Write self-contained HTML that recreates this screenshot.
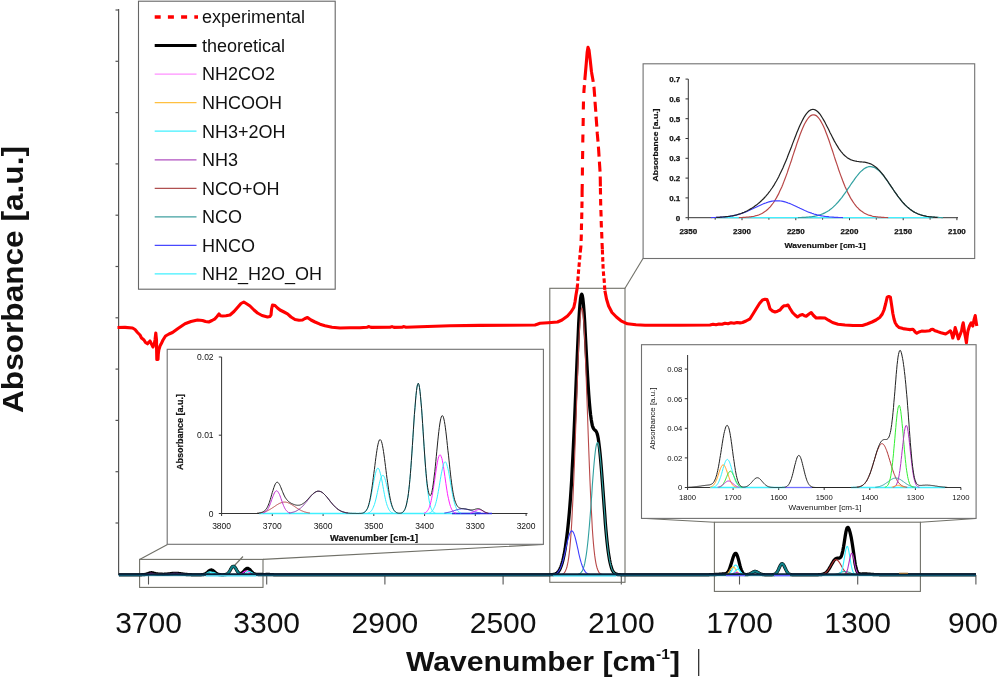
<!DOCTYPE html>
<html><head><meta charset="utf-8"><title>IR spectra</title>
<style>html,body{margin:0;padding:0;background:#fff;overflow:hidden}svg{display:block}</style></head>
<body>
<svg width="1000" height="678" viewBox="0 0 1000 678" font-family="Liberation Sans, Arial, sans-serif">
<rect width="1000" height="678" fill="#fff"/>
<g stroke="#555" stroke-width="1.2" fill="none">
<path d="M118.6,9 V575"/>
<path d="M115.5,10.0 H118.6"/>
<path d="M115.5,61.3 H118.6"/>
<path d="M115.5,112.6 H118.6"/>
<path d="M115.5,163.9 H118.6"/>
<path d="M115.5,215.2 H118.6"/>
<path d="M115.5,266.5 H118.6"/>
<path d="M115.5,317.8 H118.6"/>
<path d="M115.5,369.1 H118.6"/>
<path d="M115.5,420.4 H118.6"/>
<path d="M115.5,471.7 H118.6"/>
<path d="M115.5,523.0 H118.6"/>
</g>
<g stroke="#555" stroke-width="1.1" fill="none">
<path d="M148.5,575 V584.5"/>
<path d="M266.7,575 V584.5"/>
<path d="M384.9,575 V584.5"/>
<path d="M503.1,575 V584.5"/>
<path d="M621.3,575 V584.5"/>
<path d="M739.5,575 V584.5"/>
<path d="M857.7,575 V584.5"/>
<path d="M975.9,575 V584.5"/>
</g>
<g stroke="#707068" stroke-width="1.1" fill="none">
<rect x="139.6" y="559.4" width="123.4" height="28"/>
<path d="M139.6,559.4 L167.5,544.5 M263,559.4 L543.4,544.5"/>
<rect x="549.8" y="288.3" width="75.2" height="294"/>
<path d="M625,288.3 L643,258.5"/>
<rect x="714.4" y="522.2" width="206" height="69.2"/>
<path d="M641.5,518.3 L714.4,522.2 M976,518.5 L920.4,522.2"/>
<path d="M234,566 L243,556.5"/>
</g>
<path d="M119.0,574.8 L119.5,574.8 L120.1,574.8 L120.7,574.8 L121.3,574.8 L121.9,574.8 L122.5,574.8 L123.1,574.8 L123.7,574.8 L124.3,574.8 L124.9,574.8 L125.5,574.8 L126.0,574.8 L126.6,574.8 L127.2,574.8 L127.8,574.8 L128.4,574.8 L129.0,574.8 L129.6,574.8 L130.2,574.8 L130.8,574.8 L131.4,574.8 L132.0,574.8 L132.5,574.8 L133.1,574.8 L133.7,574.8 L134.3,574.8 L134.9,574.8 L135.5,574.8 L136.1,574.8 L136.7,574.8 L137.3,574.8 L137.9,574.8 L138.5,574.8 L139.0,574.8 L139.6,574.8 L140.2,574.8 L140.8,574.8 L141.4,574.8 L142.0,574.7 L142.6,574.7 L143.2,574.7 L143.8,574.6 L144.4,574.6 L145.0,574.5 L145.5,574.4 L146.1,574.3 L146.7,574.1 L147.3,573.9 L147.9,573.7 L148.5,573.4 L149.1,573.2 L149.7,573.0 L150.3,572.9 L150.9,572.8 L151.5,572.7 L152.0,572.8 L152.6,572.9 L153.2,573.0 L153.8,573.2 L154.4,573.4 L155.0,573.5 L155.6,573.7 L156.2,573.8 L156.8,573.9 L157.4,574.0 L158.0,574.0 L158.5,574.1 L159.1,574.1 L159.7,574.1 L160.3,574.2 L160.9,574.2 L161.5,574.2 L162.1,574.2 L162.7,574.3 L163.3,574.3 L163.9,574.3 L164.5,574.2 L165.0,574.2 L165.6,574.2 L166.2,574.2 L166.8,574.1 L167.4,574.1 L168.0,574.0 L168.6,573.9 L169.2,573.9 L169.8,573.8 L170.4,573.7 L171.0,573.6 L171.5,573.6 L172.1,573.5 L172.7,573.5 L173.3,573.4 L173.9,573.4 L174.5,573.3 L175.1,573.3 L175.7,573.3 L176.3,573.4 L176.9,573.4 L177.5,573.4 L178.1,573.5 L178.6,573.5 L179.2,573.6 L179.8,573.7 L180.4,573.7 L181.0,573.8 L181.6,573.9 L182.2,574.0 L182.8,574.1 L183.4,574.2 L184.0,574.2 L184.6,574.3 L185.1,574.4 L185.7,574.4 L186.3,574.5 L186.9,574.5 L187.5,574.6 L188.1,574.6 L188.7,574.7 L189.3,574.7 L189.9,574.7 L190.5,574.7 L191.1,574.7 L191.6,574.8 L192.2,574.8 L192.8,574.8 L193.4,574.8 L194.0,574.8 L194.6,574.8 L195.2,574.8 L195.8,574.8 L196.4,574.8 L197.0,574.8 L197.6,574.8 L198.1,574.8 L198.7,574.8 L199.3,574.8 L199.9,574.8 L200.5,574.8 L201.1,574.8 L201.7,574.7 L202.3,574.7 L202.9,574.6 L203.5,574.5 L204.1,574.4 L204.6,574.2 L205.2,573.9 L205.8,573.6 L206.4,573.2 L207.0,572.7 L207.6,572.2 L208.2,571.6 L208.8,571.1 L209.4,570.7 L210.0,570.3 L210.6,570.1 L211.1,570.0 L211.7,570.0 L212.3,570.2 L212.9,570.5 L213.5,571.0 L214.1,571.5 L214.7,572.0 L215.3,572.5 L215.9,573.0 L216.5,573.4 L217.1,573.8 L217.6,574.1 L218.2,574.3 L218.8,574.5 L219.4,574.6 L220.0,574.7 L220.6,574.7 L221.2,574.8 L221.8,574.8 L222.4,574.8 L223.0,574.8 L223.6,574.8 L224.1,574.7 L224.7,574.7 L225.3,574.6 L225.9,574.5 L226.5,574.2 L227.1,573.9 L227.7,573.5 L228.3,572.9 L228.9,572.2 L229.5,571.3 L230.1,570.3 L230.6,569.3 L231.2,568.3 L231.8,567.4 L232.4,566.7 L233.0,566.3 L233.6,566.3 L234.2,566.5 L234.8,567.1 L235.4,567.9 L236.0,568.9 L236.6,569.9 L237.1,570.9 L237.7,571.8 L238.3,572.5 L238.9,573.1 L239.5,573.4 L240.1,573.6 L240.7,573.6 L241.3,573.4 L241.9,573.1 L242.5,572.6 L243.1,572.0 L243.7,571.4 L244.2,570.7 L244.8,570.0 L245.4,569.4 L246.0,568.9 L246.6,568.6 L247.2,568.4 L247.8,568.4 L248.4,568.6 L249.0,569.0 L249.6,569.4 L250.2,570.0 L250.7,570.7 L251.3,571.3 L251.9,571.9 L252.5,572.5 L253.1,573.0 L253.7,573.4 L254.3,573.7 L254.9,574.0 L255.5,574.2 L256.1,574.3 L256.7,574.4 L257.2,574.4 L257.8,574.4 L258.4,574.5 L259.0,574.5 L259.6,574.5 L260.2,574.5 L260.8,574.5 L261.4,574.5 L262.0,574.5 L262.6,574.5 L263.2,574.6 L263.7,574.6 L264.3,574.6 L264.9,574.6 L265.5,574.6 L266.1,574.5 L266.7,574.5 L267.3,574.5 L267.9,574.5 L268.5,574.5 L269.1,574.5 L269.7,574.5 L270.2,574.6 L270.8,574.6 L271.4,574.6 L272.0,574.7 L272.6,574.7 L273.2,574.7 L273.8,574.8 L274.4,574.8 L275.0,574.8 L275.6,574.8 L276.2,574.8 L276.7,574.8 L277.3,574.8 L277.9,574.8 L278.5,574.8 L279.1,574.8 L279.7,574.8 L280.3,574.8 L280.9,574.8 L281.5,574.8 L282.1,574.8 L282.7,574.8 L283.2,574.8 L283.8,574.8 L284.4,574.8 L285.0,574.8 L285.6,574.8 L286.2,574.8 L286.8,574.8 L287.4,574.8 L288.0,574.8 L288.6,574.8 L289.2,574.8 L289.7,574.8 L290.3,574.8 L290.9,574.8 L291.5,574.8 L292.1,574.8 L292.7,574.8 L293.3,574.8 L293.9,574.8 L294.5,574.8 L295.1,574.8 L295.7,574.8 L296.2,574.8 L296.8,574.8 L297.4,574.8 L298.0,574.8 L298.6,574.8 L299.2,574.8 L299.8,574.8 L300.4,574.8 L301.0,574.8 L301.6,574.8 L302.2,574.8 L302.8,574.8 L303.3,574.8 L303.9,574.8 L304.5,574.8 L305.1,574.8 L305.7,574.8 L306.3,574.8 L306.9,574.8 L307.5,574.8 L308.1,574.8 L308.7,574.8 L309.3,574.8 L309.8,574.8 L310.4,574.8 L311.0,574.8 L311.6,574.8 L312.2,574.8 L312.8,574.8 L313.4,574.8 L314.0,574.8 L314.6,574.8 L315.2,574.8 L315.8,574.8 L316.3,574.8 L316.9,574.8 L317.5,574.8 L318.1,574.8 L318.7,574.8 L319.3,574.8 L319.9,574.8 L320.5,574.8 L321.1,574.8 L321.7,574.8 L322.3,574.8 L322.8,574.8 L323.4,574.8 L324.0,574.8 L324.6,574.8 L325.2,574.8 L325.8,574.8 L326.4,574.8 L327.0,574.8 L327.6,574.8 L328.2,574.8 L328.8,574.8 L329.3,574.8 L329.9,574.8 L330.5,574.8 L331.1,574.8 L331.7,574.8 L332.3,574.8 L332.9,574.8 L333.5,574.8 L334.1,574.8 L334.7,574.8 L335.3,574.8 L335.8,574.8 L336.4,574.8 L337.0,574.8 L337.6,574.8 L338.2,574.8 L338.8,574.8 L339.4,574.8 L340.0,574.8 L340.6,574.8 L341.2,574.8 L341.8,574.8 L342.3,574.8 L342.9,574.8 L343.5,574.8 L344.1,574.8 L344.7,574.8 L345.3,574.8 L345.9,574.8 L346.5,574.8 L347.1,574.8 L347.7,574.8 L348.3,574.8 L348.8,574.8 L349.4,574.8 L350.0,574.8 L350.6,574.8 L351.2,574.8 L351.8,574.8 L352.4,574.8 L353.0,574.8 L353.6,574.8 L354.2,574.8 L354.8,574.8 L355.4,574.8 L355.9,574.8 L356.5,574.8 L357.1,574.8 L357.7,574.8 L358.3,574.8 L358.9,574.8 L359.5,574.8 L360.1,574.8 L360.7,574.8 L361.3,574.8 L361.9,574.8 L362.4,574.8 L363.0,574.8 L363.6,574.8 L364.2,574.8 L364.8,574.8 L365.4,574.8 L366.0,574.8 L366.6,574.8 L367.2,574.8 L367.8,574.8 L368.4,574.8 L368.9,574.8 L369.5,574.8 L370.1,574.8 L370.7,574.8 L371.3,574.8 L371.9,574.8 L372.5,574.8 L373.1,574.8 L373.7,574.8 L374.3,574.8 L374.9,574.8 L375.4,574.8 L376.0,574.8 L376.6,574.8 L377.2,574.8 L377.8,574.8 L378.4,574.8 L379.0,574.8 L379.6,574.8 L380.2,574.8 L380.8,574.8 L381.4,574.8 L381.9,574.8 L382.5,574.8 L383.1,574.8 L383.7,574.8 L384.3,574.8 L384.9,574.8 L385.5,574.8 L386.1,574.8 L386.7,574.8 L387.3,574.8 L387.9,574.8 L388.4,574.8 L389.0,574.8 L389.6,574.8 L390.2,574.8 L390.8,574.8 L391.4,574.8 L392.0,574.8 L392.6,574.8 L393.2,574.8 L393.8,574.8 L394.4,574.8 L394.9,574.8 L395.5,574.8 L396.1,574.8 L396.7,574.8 L397.3,574.8 L397.9,574.8 L398.5,574.8 L399.1,574.8 L399.7,574.8 L400.3,574.8 L400.9,574.8 L401.4,574.8 L402.0,574.8 L402.6,574.8 L403.2,574.8 L403.8,574.8 L404.4,574.8 L405.0,574.8 L405.6,574.8 L406.2,574.8 L406.8,574.8 L407.4,574.8 L407.9,574.8 L408.5,574.8 L409.1,574.8 L409.7,574.8 L410.3,574.8 L410.9,574.8 L411.5,574.8 L412.1,574.8 L412.7,574.8 L413.3,574.8 L413.9,574.8 L414.4,574.8 L415.0,574.8 L415.6,574.8 L416.2,574.8 L416.8,574.8 L417.4,574.8 L418.0,574.8 L418.6,574.8 L419.2,574.8 L419.8,574.8 L420.4,574.8 L421.0,574.8 L421.5,574.8 L422.1,574.8 L422.7,574.8 L423.3,574.8 L423.9,574.8 L424.5,574.8 L425.1,574.8 L425.7,574.8 L426.3,574.8 L426.9,574.8 L427.5,574.8 L428.0,574.8 L428.6,574.8 L429.2,574.8 L429.8,574.8 L430.4,574.8 L431.0,574.8 L431.6,574.8 L432.2,574.8 L432.8,574.8 L433.4,574.8 L434.0,574.8 L434.5,574.8 L435.1,574.8 L435.7,574.8 L436.3,574.8 L436.9,574.8 L437.5,574.8 L438.1,574.8 L438.7,574.8 L439.3,574.8 L439.9,574.8 L440.5,574.8 L441.0,574.8 L441.6,574.8 L442.2,574.8 L442.8,574.8 L443.4,574.8 L444.0,574.8 L444.6,574.8 L445.2,574.8 L445.8,574.8 L446.4,574.8 L447.0,574.8 L447.5,574.8 L448.1,574.8 L448.7,574.8 L449.3,574.8 L449.9,574.8 L450.5,574.8 L451.1,574.8 L451.7,574.8 L452.3,574.8 L452.9,574.8 L453.5,574.8 L454.0,574.8 L454.6,574.8 L455.2,574.8 L455.8,574.8 L456.4,574.8 L457.0,574.8 L457.6,574.8 L458.2,574.8 L458.8,574.8 L459.4,574.8 L460.0,574.8 L460.5,574.8 L461.1,574.8 L461.7,574.8 L462.3,574.8 L462.9,574.8 L463.5,574.8 L464.1,574.8 L464.7,574.8 L465.3,574.8 L465.9,574.8 L466.5,574.8 L467.0,574.8 L467.6,574.8 L468.2,574.8 L468.8,574.8 L469.4,574.8 L470.0,574.8 L470.6,574.8 L471.2,574.8 L471.8,574.8 L472.4,574.8 L473.0,574.8 L473.6,574.8 L474.1,574.8 L474.7,574.8 L475.3,574.8 L475.9,574.8 L476.5,574.8 L477.1,574.8 L477.7,574.8 L478.3,574.8 L478.9,574.8 L479.5,574.8 L480.1,574.8 L480.6,574.8 L481.2,574.8 L481.8,574.8 L482.4,574.8 L483.0,574.8 L483.6,574.8 L484.2,574.8 L484.8,574.8 L485.4,574.8 L486.0,574.8 L486.6,574.8 L487.1,574.8 L487.7,574.8 L488.3,574.8 L488.9,574.8 L489.5,574.8 L490.1,574.8 L490.7,574.8 L491.3,574.8 L491.9,574.8 L492.5,574.8 L493.1,574.8 L493.6,574.8 L494.2,574.8 L494.8,574.8 L495.4,574.8 L496.0,574.8 L496.6,574.8 L497.2,574.8 L497.8,574.8 L498.4,574.8 L499.0,574.8 L499.6,574.8 L500.1,574.8 L500.7,574.8 L501.3,574.8 L501.9,574.8 L502.5,574.8 L503.1,574.8 L503.7,574.8 L504.3,574.8 L504.9,574.8 L505.5,574.8 L506.1,574.8 L506.6,574.8 L507.2,574.8 L507.8,574.8 L508.4,574.8 L509.0,574.8 L509.6,574.8 L510.2,574.8 L510.8,574.8 L511.4,574.8 L512.0,574.8 L512.6,574.8 L513.1,574.8 L513.7,574.8 L514.3,574.8 L514.9,574.8 L515.5,574.8 L516.1,574.8 L516.7,574.8 L517.3,574.8 L517.9,574.8 L518.5,574.8 L519.1,574.8 L519.6,574.8 L520.2,574.8 L520.8,574.8 L521.4,574.8 L522.0,574.8 L522.6,574.8 L523.2,574.8 L523.8,574.8 L524.4,574.8 L525.0,574.8 L525.6,574.8 L526.1,574.8 L526.7,574.8 L527.3,574.8 L527.9,574.8 L528.5,574.8 L529.1,574.8 L529.7,574.8 L530.3,574.8 L530.9,574.8 L531.5,574.8 L532.1,574.8 L532.6,574.8 L533.2,574.8 L533.8,574.8 L534.4,574.8 L535.0,574.8 L535.6,574.8 L536.2,574.8 L536.8,574.8 L537.4,574.8 L538.0,574.8 L538.6,574.8 L539.2,574.8 L539.7,574.8 L540.3,574.8 L540.9,574.8 L541.5,574.8 L542.1,574.8 L542.7,574.8 L543.3,574.8 L543.9,574.8 L544.5,574.8 L545.1,574.8 L545.7,574.8 L546.2,574.8 L546.8,574.8 L547.4,574.8 L548.0,574.8 L548.6,574.8 L549.2,574.8 L549.8,574.8 L550.4,574.7 L551.0,574.7 L551.6,574.7 L552.2,574.6 L552.7,574.6 L553.3,574.5 L553.9,574.4 L554.5,574.2 L555.1,574.0 L555.7,573.8 L556.3,573.5 L556.9,573.1 L557.5,572.6 L558.1,572.0 L558.7,571.2 L559.2,570.3 L559.8,569.3 L560.4,568.0 L561.0,566.5 L561.6,564.8 L562.2,562.8 L562.8,560.6 L563.4,558.0 L564.0,555.2 L564.6,552.0 L565.2,548.6 L565.7,544.7 L566.3,540.6 L566.9,536.0 L567.5,531.0 L568.1,525.5 L568.7,519.5 L569.3,512.9 L569.9,505.7 L570.5,497.8 L571.1,489.1 L571.7,479.6 L572.2,469.2 L572.8,458.0 L573.4,445.9 L574.0,433.0 L574.6,419.5 L575.2,405.3 L575.8,390.8 L576.4,376.3 L577.0,361.9 L577.6,348.1 L578.2,335.1 L578.7,323.4 L579.3,313.3 L579.9,305.1 L580.5,299.1 L581.1,295.4 L581.7,294.2 L582.3,295.5 L582.9,299.1 L583.5,304.9 L584.1,312.6 L584.7,321.8 L585.2,332.2 L585.8,343.2 L586.4,354.5 L587.0,365.6 L587.6,376.3 L588.2,386.1 L588.8,395.0 L589.4,402.7 L590.0,409.4 L590.6,414.9 L591.2,419.3 L591.8,422.8 L592.3,425.4 L592.9,427.2 L593.5,428.5 L594.1,429.3 L594.7,429.9 L595.3,430.4 L595.9,431.0 L596.5,432.0 L597.1,433.5 L597.7,435.7 L598.3,438.7 L598.8,442.6 L599.4,447.4 L600.0,453.0 L600.6,459.5 L601.2,466.6 L601.8,474.3 L602.4,482.3 L603.0,490.6 L603.6,498.9 L604.2,507.1 L604.8,515.0 L605.3,522.6 L605.9,529.6 L606.5,536.1 L607.1,542.1 L607.7,547.4 L608.3,552.1 L608.9,556.1 L609.5,559.6 L610.1,562.6 L610.7,565.1 L611.3,567.2 L611.8,568.9 L612.4,570.2 L613.0,571.3 L613.6,572.2 L614.2,572.8 L614.8,573.4 L615.4,573.7 L616.0,574.0 L616.6,574.3 L617.2,574.4 L617.8,574.5 L618.3,574.6 L618.9,574.7 L619.5,574.7 L620.1,574.7 L620.7,574.8 L621.3,574.8 L621.9,574.8 L622.5,574.8 L623.1,574.8 L623.7,574.8 L624.3,574.8 L624.8,574.8 L625.4,574.8 L626.0,574.8 L626.6,574.8 L627.2,574.8 L627.8,574.8 L628.4,574.8 L629.0,574.8 L629.6,574.8 L630.2,574.8 L630.8,574.8 L631.3,574.8 L631.9,574.8 L632.5,574.8 L633.1,574.8 L633.7,574.8 L634.3,574.8 L634.9,574.8 L635.5,574.8 L636.1,574.8 L636.7,574.8 L637.3,574.8 L637.8,574.8 L638.4,574.8 L639.0,574.8 L639.6,574.8 L640.2,574.8 L640.8,574.8 L641.4,574.8 L642.0,574.8 L642.6,574.8 L643.2,574.8 L643.8,574.8 L644.3,574.8 L644.9,574.8 L645.5,574.8 L646.1,574.8 L646.7,574.8 L647.3,574.8 L647.9,574.8 L648.5,574.8 L649.1,574.8 L649.7,574.8 L650.3,574.8 L650.8,574.8 L651.4,574.8 L652.0,574.8 L652.6,574.8 L653.2,574.8 L653.8,574.8 L654.4,574.8 L655.0,574.8 L655.6,574.8 L656.2,574.8 L656.8,574.8 L657.4,574.8 L657.9,574.8 L658.5,574.8 L659.1,574.8 L659.7,574.8 L660.3,574.8 L660.9,574.8 L661.5,574.8 L662.1,574.8 L662.7,574.8 L663.3,574.8 L663.9,574.8 L664.4,574.8 L665.0,574.8 L665.6,574.8 L666.2,574.8 L666.8,574.8 L667.4,574.8 L668.0,574.8 L668.6,574.8 L669.2,574.8 L669.8,574.8 L670.4,574.8 L670.9,574.8 L671.5,574.8 L672.1,574.8 L672.7,574.8 L673.3,574.8 L673.9,574.8 L674.5,574.8 L675.1,574.8 L675.7,574.8 L676.3,574.8 L676.9,574.8 L677.4,574.8 L678.0,574.8 L678.6,574.8 L679.2,574.8 L679.8,574.8 L680.4,574.8 L681.0,574.8 L681.6,574.8 L682.2,574.8 L682.8,574.8 L683.4,574.8 L683.9,574.8 L684.5,574.8 L685.1,574.8 L685.7,574.8 L686.3,574.8 L686.9,574.8 L687.5,574.8 L688.1,574.8 L688.7,574.8 L689.3,574.8 L689.9,574.8 L690.4,574.8 L691.0,574.8 L691.6,574.8 L692.2,574.8 L692.8,574.8 L693.4,574.8 L694.0,574.8 L694.6,574.8 L695.2,574.8 L695.8,574.8 L696.4,574.8 L696.9,574.8 L697.5,574.8 L698.1,574.8 L698.7,574.8 L699.3,574.8 L699.9,574.8 L700.5,574.8 L701.1,574.8 L701.7,574.8 L702.3,574.8 L702.9,574.8 L703.4,574.8 L704.0,574.8 L704.6,574.8 L705.2,574.8 L705.8,574.8 L706.4,574.8 L707.0,574.8 L707.6,574.8 L708.2,574.8 L708.8,574.8 L709.4,574.7 L709.9,574.7 L710.5,574.7 L711.1,574.7 L711.7,574.7 L712.3,574.7 L712.9,574.6 L713.5,574.6 L714.1,574.6 L714.7,574.6 L715.3,574.5 L715.9,574.5 L716.5,574.4 L717.0,574.4 L717.6,574.3 L718.2,574.3 L718.8,574.3 L719.4,574.2 L720.0,574.2 L720.6,574.1 L721.2,574.1 L721.8,574.1 L722.4,574.0 L723.0,574.0 L723.5,573.9 L724.1,573.9 L724.7,573.8 L725.3,573.7 L725.9,573.5 L726.5,573.2 L727.1,572.8 L727.7,572.2 L728.3,571.4 L728.9,570.3 L729.5,569.0 L730.0,567.4 L730.6,565.6 L731.2,563.7 L731.8,561.7 L732.4,559.7 L733.0,557.8 L733.6,556.1 L734.2,554.7 L734.8,553.8 L735.4,553.3 L736.0,553.4 L736.5,554.0 L737.1,555.2 L737.7,556.9 L738.3,558.9 L738.9,561.2 L739.5,563.6 L740.1,565.9 L740.7,568.0 L741.3,569.8 L741.9,571.3 L742.5,572.4 L743.0,573.2 L743.6,573.8 L744.2,574.2 L744.8,574.4 L745.4,574.6 L746.0,574.6 L746.6,574.6 L747.2,574.6 L747.8,574.5 L748.4,574.4 L749.0,574.2 L749.5,574.0 L750.1,573.8 L750.7,573.5 L751.3,573.1 L751.9,572.7 L752.5,572.4 L753.1,572.0 L753.7,571.7 L754.3,571.5 L754.9,571.4 L755.5,571.4 L756.0,571.5 L756.6,571.7 L757.2,572.0 L757.8,572.4 L758.4,572.7 L759.0,573.1 L759.6,573.5 L760.2,573.8 L760.8,574.0 L761.4,574.3 L762.0,574.4 L762.5,574.5 L763.1,574.6 L763.7,574.7 L764.3,574.7 L764.9,574.8 L765.5,574.8 L766.1,574.8 L766.7,574.8 L767.3,574.8 L767.9,574.8 L768.5,574.8 L769.0,574.8 L769.6,574.8 L770.2,574.8 L770.8,574.8 L771.4,574.8 L772.0,574.8 L772.6,574.7 L773.2,574.7 L773.8,574.6 L774.4,574.4 L775.0,574.1 L775.6,573.8 L776.1,573.2 L776.7,572.5 L777.3,571.6 L777.9,570.6 L778.5,569.4 L779.1,568.0 L779.7,566.7 L780.3,565.5 L780.9,564.6 L781.5,563.9 L782.1,563.7 L782.6,563.8 L783.2,564.4 L783.8,565.3 L784.4,566.5 L785.0,567.8 L785.6,569.1 L786.2,570.3 L786.8,571.4 L787.4,572.4 L788.0,573.1 L788.6,573.7 L789.1,574.1 L789.7,574.3 L790.3,574.5 L790.9,574.6 L791.5,574.7 L792.1,574.8 L792.7,574.8 L793.3,574.8 L793.9,574.8 L794.5,574.8 L795.1,574.8 L795.6,574.8 L796.2,574.8 L796.8,574.8 L797.4,574.8 L798.0,574.8 L798.6,574.8 L799.2,574.8 L799.8,574.8 L800.4,574.8 L801.0,574.8 L801.6,574.8 L802.1,574.8 L802.7,574.8 L803.3,574.8 L803.9,574.8 L804.5,574.8 L805.1,574.8 L805.7,574.8 L806.3,574.8 L806.9,574.8 L807.5,574.8 L808.1,574.8 L808.6,574.8 L809.2,574.8 L809.8,574.8 L810.4,574.8 L811.0,574.8 L811.6,574.8 L812.2,574.8 L812.8,574.8 L813.4,574.8 L814.0,574.8 L814.6,574.8 L815.1,574.8 L815.7,574.8 L816.3,574.8 L816.9,574.8 L817.5,574.8 L818.1,574.8 L818.7,574.7 L819.3,574.7 L819.9,574.7 L820.5,574.6 L821.1,574.6 L821.6,574.5 L822.2,574.4 L822.8,574.2 L823.4,574.1 L824.0,573.8 L824.6,573.5 L825.2,573.2 L825.8,572.7 L826.4,572.2 L827.0,571.6 L827.6,570.9 L828.1,570.2 L828.7,569.3 L829.3,568.3 L829.9,567.3 L830.5,566.3 L831.1,565.2 L831.7,564.1 L832.3,563.1 L832.9,562.1 L833.5,561.1 L834.1,560.3 L834.7,559.6 L835.2,559.1 L835.8,558.7 L836.4,558.4 L837.0,558.2 L837.6,558.2 L838.2,558.2 L838.8,558.1 L839.4,558.1 L840.0,557.8 L840.6,557.3 L841.2,556.4 L841.7,555.0 L842.3,553.0 L842.9,550.3 L843.5,547.1 L844.1,543.4 L844.7,539.4 L845.3,535.6 L845.9,532.2 L846.5,529.6 L847.1,527.9 L847.7,527.3 L848.2,527.5 L848.8,528.5 L849.4,530.1 L850.0,532.1 L850.6,534.6 L851.2,537.4 L851.8,540.7 L852.4,544.4 L853.0,548.5 L853.6,552.8 L854.2,557.1 L854.7,561.1 L855.3,564.6 L855.9,567.5 L856.5,569.7 L857.1,571.4 L857.7,572.5 L858.3,573.2 L858.9,573.7 L859.5,573.9 L860.1,574.0 L860.7,574.1 L861.2,574.1 L861.8,574.1 L862.4,574.0 L863.0,574.0 L863.6,574.0 L864.2,574.0 L864.8,574.0 L865.4,574.0 L866.0,574.0 L866.6,574.0 L867.2,574.0 L867.7,574.1 L868.3,574.1 L868.9,574.1 L869.5,574.2 L870.1,574.2 L870.7,574.3 L871.3,574.3 L871.9,574.4 L872.5,574.4 L873.1,574.5 L873.7,574.5 L874.2,574.6 L874.8,574.6 L875.4,574.6 L876.0,574.7 L876.6,574.7 L877.2,574.7 L877.8,574.7 L878.4,574.7 L879.0,574.7 L879.6,574.8 L880.2,574.8 L880.7,574.8 L881.3,574.8 L881.9,574.8 L882.5,574.8 L883.1,574.8 L883.7,574.8 L884.3,574.8 L884.9,574.8 L885.5,574.8 L886.1,574.8 L886.7,574.8 L887.2,574.8 L887.8,574.8 L888.4,574.8 L889.0,574.8 L889.6,574.8 L890.2,574.8 L890.8,574.8 L891.4,574.8 L892.0,574.8 L892.6,574.8 L893.2,574.8 L893.8,574.8 L894.3,574.8 L894.9,574.8 L895.5,574.8 L896.1,574.8 L896.7,574.8 L897.3,574.8 L897.9,574.8 L898.5,574.8 L899.1,574.8 L899.7,574.8 L900.3,574.8 L900.8,574.8 L901.4,574.8 L902.0,574.8 L902.6,574.8 L903.2,574.8 L903.8,574.8 L904.4,574.8 L905.0,574.8 L905.6,574.8 L906.2,574.8 L906.8,574.8 L907.3,574.8 L907.9,574.8 L908.5,574.8 L909.1,574.8 L909.7,574.8 L910.3,574.8 L910.9,574.8 L911.5,574.8 L912.1,574.8 L912.7,574.8 L913.3,574.8 L913.8,574.8 L914.4,574.8 L915.0,574.8 L915.6,574.8 L916.2,574.8 L916.8,574.8 L917.4,574.8 L918.0,574.8 L918.6,574.8 L919.2,574.8 L919.8,574.8 L920.3,574.8 L920.9,574.8 L921.5,574.8 L922.1,574.8 L922.7,574.8 L923.3,574.8 L923.9,574.8 L924.5,574.8 L925.1,574.8 L925.7,574.8 L926.3,574.8 L926.8,574.8 L927.4,574.8 L928.0,574.8 L928.6,574.8 L929.2,574.8 L929.8,574.8 L930.4,574.8 L931.0,574.8 L931.6,574.8 L932.2,574.8 L932.8,574.8 L933.3,574.8 L933.9,574.8 L934.5,574.8 L935.1,574.8 L935.7,574.8 L936.3,574.8 L936.9,574.8 L937.5,574.8 L938.1,574.8 L938.7,574.8 L939.3,574.8 L939.8,574.8 L940.4,574.8 L941.0,574.8 L941.6,574.8 L942.2,574.8 L942.8,574.8 L943.4,574.8 L944.0,574.8 L944.6,574.8 L945.2,574.8 L945.8,574.8 L946.3,574.8 L946.9,574.8 L947.5,574.8 L948.1,574.8 L948.7,574.8 L949.3,574.8 L949.9,574.8 L950.5,574.8 L951.1,574.8 L951.7,574.8 L952.3,574.8 L952.9,574.8 L953.4,574.8 L954.0,574.8 L954.6,574.8 L955.2,574.8 L955.8,574.8 L956.4,574.8 L957.0,574.8 L957.6,574.8 L958.2,574.8 L958.8,574.8 L959.4,574.8 L959.9,574.8 L960.5,574.8 L961.1,574.8 L961.7,574.8 L962.3,574.8 L962.9,574.8 L963.5,574.8 L964.1,574.8 L964.7,574.8 L965.3,574.8 L965.9,574.8 L966.4,574.8 L967.0,574.8 L967.6,574.8 L968.2,574.8 L968.8,574.8 L969.4,574.8 L970.0,574.8 L970.6,574.8 L971.2,574.8 L971.8,574.8 L972.4,574.8 L972.9,574.8 L973.5,574.8 L974.1,574.8 L974.7,574.8 L975.3,574.8 L975.9,574.8" stroke="#000" stroke-width="3.3" fill="none" stroke-linejoin="round"/>
<path d="M561.6,574.4 L562.2,574.2 L562.8,574.0 L563.4,573.6 L564.0,573.1 L564.6,572.5 L565.2,571.6 L565.7,570.4 L566.3,568.9 L566.9,567.0 L567.5,564.5 L568.1,561.4 L568.7,557.6 L569.3,552.9 L569.9,547.3 L570.5,540.6 L571.1,532.7 L571.7,523.5 L572.2,513.0 L572.8,501.3 L573.4,488.2 L574.0,473.9 L574.6,458.6 L575.2,442.5 L575.8,425.7 L576.4,408.7 L577.0,391.8 L577.6,375.4 L578.2,360.0 L578.7,345.8 L579.3,333.4 L579.9,323.2 L580.5,315.4 L581.1,310.3 L581.7,308.1 L582.3,308.9 L582.9,312.5 L583.5,319.0 L584.1,328.0 L584.7,339.4 L585.2,352.7 L585.8,367.6 L586.4,383.5 L587.0,400.3 L587.6,417.3 L588.2,434.2 L588.8,450.7 L589.4,466.4 L590.0,481.2 L590.6,494.9 L591.2,507.3 L591.8,518.4 L592.3,528.2 L592.9,536.8 L593.5,544.1 L594.1,550.2 L594.7,555.4 L595.3,559.6 L595.9,563.1 L596.5,565.8 L597.1,568.0 L597.7,569.7 L598.3,571.1 L598.8,572.1 L599.4,572.8 L600.0,573.4 L600.6,573.8 L601.2,574.1 L601.8,574.3 L602.4,574.5" stroke="#b84848" stroke-width="1.1" fill="none"/>
<path d="M577.6,574.5 L578.2,574.3 L578.7,574.1 L579.3,573.9 L579.9,573.5 L580.5,573.1 L581.1,572.5 L581.7,571.7 L582.3,570.7 L582.9,569.5 L583.5,567.9 L584.1,566.0 L584.7,563.7 L585.2,560.9 L585.8,557.6 L586.4,553.8 L587.0,549.3 L587.6,544.3 L588.2,538.6 L588.8,532.3 L589.4,525.5 L590.0,518.1 L590.6,510.4 L591.2,502.3 L591.8,494.1 L592.3,485.9 L592.9,477.9 L593.5,470.3 L594.1,463.2 L594.7,457.0 L595.3,451.6 L595.9,447.4 L596.5,444.4 L597.1,442.8 L597.7,442.5 L598.3,443.6 L598.8,446.1 L599.4,449.8 L600.0,454.7 L600.6,460.6 L601.2,467.4 L601.8,474.8 L602.4,482.7 L603.0,490.8 L603.6,499.0 L604.2,507.2 L604.8,515.1 L605.3,522.6 L605.9,529.7 L606.5,536.2 L607.1,542.1 L607.7,547.4 L608.3,552.1 L608.9,556.1 L609.5,559.6 L610.1,562.6 L610.7,565.1 L611.3,567.2 L611.8,568.9 L612.4,570.2 L613.0,571.3 L613.6,572.2 L614.2,572.8 L614.8,573.4 L615.4,573.7 L616.0,574.0 L616.6,574.3 L617.2,574.4" stroke="#30a0a0" stroke-width="1.1" fill="none"/>
<path d="M553.3,574.5 L553.9,574.4 L554.5,574.2 L555.1,574.1 L555.7,573.8 L556.3,573.5 L556.9,573.1 L557.5,572.6 L558.1,572.0 L558.7,571.3 L559.2,570.4 L559.8,569.4 L560.4,568.2 L561.0,566.8 L561.6,565.2 L562.2,563.4 L562.8,561.4 L563.4,559.2 L564.0,556.9 L564.6,554.4 L565.2,551.8 L565.7,549.1 L566.3,546.4 L566.9,543.8 L567.5,541.2 L568.1,538.8 L568.7,536.6 L569.3,534.8 L569.9,533.2 L570.5,532.0 L571.1,531.2 L571.7,530.9 L572.2,531.0 L572.8,531.6 L573.4,532.5 L574.0,533.9 L574.6,535.7 L575.2,537.7 L575.8,540.0 L576.4,542.5 L577.0,545.1 L577.6,547.8 L578.2,550.4 L578.7,553.1 L579.3,555.6 L579.9,558.1 L580.5,560.3 L581.1,562.4 L581.7,564.3 L582.3,566.0 L582.9,567.5 L583.5,568.8 L584.1,569.9 L584.7,570.9 L585.2,571.7 L585.8,572.3 L586.4,572.9 L587.0,573.3 L587.6,573.7 L588.2,573.9 L588.8,574.2 L589.4,574.3 L590.0,574.4" stroke="#4040ff" stroke-width="1.1" fill="none"/>
<path d="M149.1,574.4 L149.7,574.3 L150.3,574.3 L150.9,574.3 L151.5,574.2 L152.0,574.2 L152.6,574.1 L153.2,574.1 L153.8,574.1 L154.4,574.1 L155.0,574.1 L155.6,574.1 L156.2,574.1 L156.8,574.1 L157.4,574.1 L158.0,574.1 L158.5,574.1 L159.1,574.2 L159.7,574.2 L160.3,574.3 L160.9,574.3 L161.5,574.3 L162.1,574.4" stroke="#b84848" stroke-width="1.1" fill="none"/>
<path d="M146.1,574.5 L146.7,574.3 L147.3,574.2 L147.9,574.0 L148.5,573.8 L149.1,573.6 L149.7,573.5 L150.3,573.4 L150.9,573.3 L151.5,573.3 L152.0,573.4 L152.6,573.6 L153.2,573.7 L153.8,573.9 L154.4,574.1 L155.0,574.3 L155.6,574.4" stroke="#c030d0" stroke-width="1.1" fill="none"/>
<path d="M165.0,574.4 L165.6,574.4 L166.2,574.3 L166.8,574.2 L167.4,574.2 L168.0,574.1 L168.6,574.0 L169.2,573.9 L169.8,573.8 L170.4,573.7 L171.0,573.7 L171.5,573.6 L172.1,573.5 L172.7,573.5 L173.3,573.4 L173.9,573.4 L174.5,573.4 L175.1,573.3 L175.7,573.3 L176.3,573.4 L176.9,573.4 L177.5,573.4 L178.1,573.5 L178.6,573.5 L179.2,573.6 L179.8,573.7 L180.4,573.7 L181.0,573.8 L181.6,573.9 L182.2,574.0 L182.8,574.1 L183.4,574.2 L184.0,574.2 L184.6,574.3 L185.1,574.4 L185.7,574.4" stroke="#8030a0" stroke-width="1.1" fill="none"/>
<path d="M204.1,574.4 L204.6,574.3 L205.2,574.0 L205.8,573.7 L206.4,573.4 L207.0,573.0 L207.6,572.7 L208.2,572.3 L208.8,572.1 L209.4,571.9 L210.0,571.8 L210.6,571.9 L211.1,572.1 L211.7,572.3 L212.3,572.7 L212.9,573.0 L213.5,573.4 L214.1,573.7 L214.7,574.0 L215.3,574.3 L215.9,574.4" stroke="#30f0ff" stroke-width="1.1" fill="none"/>
<path d="M207.0,574.5 L207.6,574.3 L208.2,574.1 L208.8,573.9 L209.4,573.6 L210.0,573.3 L210.6,573.0 L211.1,572.7 L211.7,572.5 L212.3,572.3 L212.9,572.3 L213.5,572.4 L214.1,572.5 L214.7,572.8 L215.3,573.1 L215.9,573.4 L216.5,573.7 L217.1,573.9 L217.6,574.2 L218.2,574.4 L218.8,574.5" stroke="#30f0ff" stroke-width="1.1" fill="none"/>
<path d="M225.9,574.5 L226.5,574.2 L227.1,573.9 L227.7,573.5 L228.3,572.9 L228.9,572.2 L229.5,571.3 L230.1,570.3 L230.6,569.3 L231.2,568.3 L231.8,567.4 L232.4,566.7 L233.0,566.3 L233.6,566.3 L234.2,566.5 L234.8,567.1 L235.4,567.9 L236.0,568.9 L236.6,569.9 L237.1,570.9 L237.7,571.9 L238.3,572.6 L238.9,573.3 L239.5,573.8 L240.1,574.1 L240.7,574.4 L241.3,574.6" stroke="#108088" stroke-width="2.2" fill="none"/>
<path d="M239.5,574.5 L240.1,574.3 L240.7,574.1 L241.3,573.8 L241.9,573.4 L242.5,573.0 L243.1,572.6 L243.7,572.1 L244.2,571.7 L244.8,571.3 L245.4,571.1 L246.0,571.0 L246.6,571.0 L247.2,571.2 L247.8,571.5 L248.4,571.9 L249.0,572.4 L249.6,572.8 L250.2,573.3 L250.7,573.7 L251.3,574.0 L251.9,574.2 L252.5,574.4" stroke="#ff20ff" stroke-width="1.1" fill="none"/>
<path d="M242.5,574.5 L243.1,574.3 L243.7,574.1 L244.2,573.9 L244.8,573.5 L245.4,573.2 L246.0,572.8 L246.6,572.4 L247.2,572.0 L247.8,571.7 L248.4,571.5 L249.0,571.4 L249.6,571.4 L250.2,571.6 L250.7,571.9 L251.3,572.2 L251.9,572.6 L252.5,573.0 L253.1,573.4 L253.7,573.7 L254.3,574.0 L254.9,574.2 L255.5,574.4" stroke="#30f0ff" stroke-width="1.1" fill="none"/>
<path d="M822.2,574.4 L822.8,574.2 L823.4,574.1 L824.0,573.8 L824.6,573.5 L825.2,573.2 L825.8,572.7 L826.4,572.2 L827.0,571.6 L827.6,570.9 L828.1,570.2 L828.7,569.3 L829.3,568.4 L829.9,567.4 L830.5,566.3 L831.1,565.3 L831.7,564.2 L832.3,563.2 L832.9,562.3 L833.5,561.4 L834.1,560.7 L834.7,560.2 L835.2,559.8 L835.8,559.6 L836.4,559.7 L837.0,559.9 L837.6,560.3 L838.2,560.9 L838.8,561.6 L839.4,562.5 L840.0,563.4 L840.6,564.4 L841.2,565.5 L841.7,566.5 L842.3,567.6 L842.9,568.6 L843.5,569.5 L844.1,570.3 L844.7,571.1 L845.3,571.8 L845.9,572.3 L846.5,572.8 L847.1,573.3 L847.7,573.6 L848.2,573.9 L848.8,574.1 L849.4,574.3 L850.0,574.4" stroke="#b03030" stroke-width="1.1" fill="none"/>
<path d="M834.7,574.4 L835.2,574.3 L835.8,574.2 L836.4,574.0 L837.0,573.9 L837.6,573.7 L838.2,573.5 L838.8,573.3 L839.4,573.0 L840.0,572.8 L840.6,572.6 L841.2,572.3 L841.7,572.1 L842.3,571.9 L842.9,571.8 L843.5,571.7 L844.1,571.6 L844.7,571.5 L845.3,571.5 L845.9,571.6 L846.5,571.7 L847.1,571.8 L847.7,571.9 L848.2,572.1 L848.8,572.3 L849.4,572.6 L850.0,572.8 L850.6,573.0 L851.2,573.3 L851.8,573.5 L852.4,573.7 L853.0,573.9 L853.6,574.0 L854.2,574.2 L854.7,574.3 L855.3,574.4" stroke="#30a0a0" stroke-width="1.1" fill="none"/>
<path d="M727.7,574.5 L728.3,574.3 L728.9,574.0 L729.5,573.5 L730.0,573.0 L730.6,572.3 L731.2,571.4 L731.8,570.4 L732.4,569.3 L733.0,568.2 L733.6,567.1 L734.2,566.2 L734.8,565.5 L735.4,565.1 L736.0,565.1 L736.5,565.4 L737.1,566.0 L737.7,566.9 L738.3,567.9 L738.9,569.1 L739.5,570.2 L740.1,571.2 L740.7,572.1 L741.3,572.8 L741.9,573.4 L742.5,573.9 L743.0,574.2 L743.6,574.4" stroke="#30f0ff" stroke-width="1.1" fill="none"/>
<path d="M725.3,574.5 L725.9,574.4 L726.5,574.1 L727.1,573.8 L727.7,573.3 L728.3,572.7 L728.9,571.9 L729.5,571.0 L730.0,570.1 L730.6,569.1 L731.2,568.3 L731.8,567.6 L732.4,567.1 L733.0,567.0 L733.6,567.1 L734.2,567.5 L734.8,568.2 L735.4,569.1 L736.0,570.0 L736.5,570.9 L737.1,571.8 L737.7,572.6 L738.3,573.2 L738.9,573.7 L739.5,574.1 L740.1,574.3 L740.7,574.5" stroke="#ffc040" stroke-width="1.1" fill="none"/>
<path d="M731.2,574.5 L731.8,574.3 L732.4,574.0 L733.0,573.6 L733.6,573.1 L734.2,572.5 L734.8,571.8 L735.4,571.0 L736.0,570.3 L736.5,569.7 L737.1,569.3 L737.7,569.2 L738.3,569.3 L738.9,569.7 L739.5,570.3 L740.1,571.0 L740.7,571.8 L741.3,572.5 L741.9,573.1 L742.5,573.6 L743.0,574.0 L743.6,574.3 L744.2,574.5" stroke="#30f0ff" stroke-width="1.1" fill="none"/>
<path d="M731.2,574.4 L731.8,574.3 L732.4,574.0 L733.0,573.8 L733.6,573.5 L734.2,573.2 L734.8,573.0 L735.4,572.7 L736.0,572.6 L736.5,572.5 L737.1,572.6 L737.7,572.7 L738.3,573.0 L738.9,573.2 L739.5,573.5 L740.1,573.8 L740.7,574.0 L741.3,574.3 L741.9,574.4" stroke="#c030d0" stroke-width="1.1" fill="none"/>
<path d="M748.4,574.4 L749.0,574.3 L749.5,574.0 L750.1,573.8 L750.7,573.5 L751.3,573.1 L751.9,572.7 L752.5,572.4 L753.1,572.0 L753.7,571.7 L754.3,571.5 L754.9,571.4 L755.5,571.4 L756.0,571.5 L756.6,571.7 L757.2,572.0 L757.8,572.4 L758.4,572.7 L759.0,573.1 L759.6,573.5 L760.2,573.8 L760.8,574.0 L761.4,574.3 L762.0,574.4" stroke="#108088" stroke-width="2.2" fill="none"/>
<path d="M773.8,574.6 L774.4,574.4 L775.0,574.1 L775.6,573.8 L776.1,573.2 L776.7,572.5 L777.3,571.6 L777.9,570.6 L778.5,569.4 L779.1,568.0 L779.7,566.7 L780.3,565.5 L780.9,564.6 L781.5,563.9 L782.1,563.7 L782.6,563.8 L783.2,564.4 L783.8,565.3 L784.4,566.5 L785.0,567.8 L785.6,569.1 L786.2,570.3 L786.8,571.4 L787.4,572.4 L788.0,573.1 L788.6,573.7 L789.1,574.1 L789.7,574.3 L790.3,574.5" stroke="#108088" stroke-width="2.2" fill="none"/>
<path d="M838.8,574.5 L839.4,574.3 L840.0,573.9 L840.6,573.2 L841.2,572.2 L841.7,570.8 L842.3,568.8 L842.9,566.2 L843.5,563.1 L844.1,559.6 L844.7,555.9 L845.3,552.3 L845.9,549.3 L846.5,547.3 L847.1,546.4 L847.7,546.7 L848.2,548.4 L848.8,551.0 L849.4,554.4 L850.0,558.1 L850.6,561.7 L851.2,565.0 L851.8,567.8 L852.4,570.0 L853.0,571.7 L853.6,572.9 L854.2,573.7 L854.7,574.2 L855.3,574.5" stroke="#30f0ff" stroke-width="1.1" fill="none"/>
<path d="M844.1,574.6 L844.7,574.3 L845.3,573.9 L845.9,573.3 L846.5,572.3 L847.1,570.8 L847.7,568.9 L848.2,566.5 L848.8,563.7 L849.4,560.7 L850.0,557.8 L850.6,555.4 L851.2,553.8 L851.8,553.3 L852.4,553.8 L853.0,555.4 L853.6,557.8 L854.2,560.7 L854.7,563.7 L855.3,566.5 L855.9,568.9 L856.5,570.8 L857.1,572.3 L857.7,573.3 L858.3,573.9 L858.9,574.3 L859.5,574.6" stroke="#b030c0" stroke-width="1.1" fill="none"/>
<path d="M844.1,574.4 L844.7,574.3 L845.3,574.1 L845.9,574.1 L846.5,574.0 L847.1,574.1 L847.7,574.1 L848.2,574.3 L848.8,574.4" stroke="#ffa020" stroke-width="1.1" fill="none"/>
<path d="M118.6,574.1 H976" stroke="#0a2238" stroke-width="1.7" fill="none"/>
<path d="M118.6,575.4 H976" stroke="#06506e" stroke-width="1.0" fill="none"/>
<path d="M118.6,576.1 H976" stroke="#50b0c0" stroke-width="0.5" fill="none" opacity="0.7"/>
<path d="M899,573.3 H908" stroke="#a07030" stroke-width="1.2"/>
<path d="M774,575.6 H790" stroke="#6060ff" stroke-width="1.4"/>
<path d="M726,575.6 H745" stroke="#6060ff" stroke-width="1.2"/>
<path d="M206,575.8 H256" stroke="#60e8ff" stroke-width="1.3"/>
<path d="M553,576 H616" stroke="#40e8ff" stroke-width="1.2"/>
<g stroke="#ff0000" stroke-width="3.1" fill="none" stroke-linejoin="round" stroke-linecap="butt">
<path d="M117.5,327.5 L125.0,327.4 L132.5,328.0 L135.0,329.5 L137.5,332.5 L140.0,335.0 L141.5,338.0 L142.5,338.8 L144.0,340.0 L145.5,342.5 L147.5,343.8 L149.0,342.0 L150.0,341.0 L151.5,344.0 L153.0,347.0 L154.2,344.0 L155.0,340.0 L155.8,333.0 L156.5,340.0 L156.6,350.0 L156.8,359.5 L158.0,359.5 L158.3,354.0 L158.8,350.0 L160.0,346.0 L161.2,343.8 L163.0,340.0 L165.5,336.0 L169.0,334.0 L172.5,332.5 L178.0,328.5 L185.0,323.8 L191.0,321.5 L197.5,320.0 L202.5,320.5 L205.5,321.5 L208.8,322.0 L212.0,320.5 L215.0,318.8 L217.0,316.5 L219.0,314.0 L220.5,315.8 L222.5,316.0 L226.0,315.8 L230.0,315.0 L234.0,311.5 L237.5,307.5 L241.0,303.5 L243.8,302.0 L247.0,304.0 L250.0,306.0 L254.0,310.0 L257.5,313.0 L262.0,315.5 L267.5,317.0 L270.0,316.5 L271.0,315.0 L271.6,309.0 L272.5,305.0 L275.0,305.5 L277.5,308.0 L280.0,310.0 L284.0,312.0 L287.5,313.8 L291.0,317.0 L295.0,319.5 L299.0,320.2 L302.5,320.0 L305.0,318.5 L307.5,317.5 L311.0,320.0 L315.0,322.0 L320.0,324.2 L325.0,325.8 L332.0,327.2 L340.0,328.0 L350.0,327.8 L360.0,327.8 L367.0,327.2 L369.0,326.6 L371.0,327.4 L390.0,327.3 L392.0,326.6 L394.0,327.4 L402.0,327.2 L404.0,326.6 L406.0,327.3 L420.0,326.8 L450.0,325.7 L480.0,325.4 L510.0,325.2 L535.0,325.0 L538.0,324.0 L540.0,323.3 L548.0,322.8 L557.5,322.0 L562.0,320.0 L567.5,316.0 L571.0,312.0 L573.8,307.5 L575.0,302.0 L576.0,295.0 L577.2,288.0"/>
<path d="M577.2,288.0 L577.5,284.7 L577.7,281.5 L578.0,278.2 L578.3,274.9 L578.5,271.6 L578.8,268.4 L579.1,265.1 L579.4,261.8 L579.7,258.5 L580.0,255.3 L580.3,252.0" stroke-dasharray="4.5 2.6"/>
<path d="M580.3,252.0 L580.9,246.5 L581.1,241.1 L581.3,235.6 L581.4,230.2 L581.5,224.7 L581.7,219.3 L581.8,213.8 L581.9,208.4 L582.0,202.9 L582.1,197.5 L582.1,192.0" stroke-dasharray="6.5 4.5"/>
<path d="M582.1,192.0 L582.3,181.8 L582.4,171.6 L582.5,161.5 L582.7,151.3 L582.8,141.1 L583.0,130.9 L583.2,120.7 L583.3,110.5 L583.5,100.4 L584.0,90.2 L584.8,80.0" stroke-dasharray="8 8.5"/>
<path d="M584.8,80.0 L586.3,63.0 L587.2,52.0 L588.0,47.3 L589.0,50.0 L590.2,60.0 L591.5,72.0"/>
<path d="M591.5,72.0 L592.9,79.7 L594.0,87.5 L594.6,95.2 L595.1,102.9 L595.7,110.7 L596.2,118.4 L596.8,126.1 L597.3,133.9 L598.0,141.6 L598.6,149.3 L599.1,157.1 L599.6,164.8 L600.1,172.5 L600.3,180.3 L600.4,188.0" stroke-dasharray="10 5"/>
<path d="M600.4,188.0 L600.5,193.6 L600.6,199.3 L600.7,204.9 L600.9,210.5 L601.1,216.2 L601.2,221.8 L601.4,227.5 L601.7,233.1 L601.9,238.7 L602.1,244.4 L602.4,250.0" stroke-dasharray="6.5 4.5"/>
<path d="M602.4,250.0 L602.5,253.7 L602.7,257.4 L602.8,261.1 L603.0,264.8 L603.1,268.5 L603.4,272.1 L603.7,275.8 L604.1,279.5 L604.4,283.2 L604.6,286.9 L604.9,290.6" stroke-dasharray="4.5 2.6"/>
<path d="M604.9,290.6 L606.5,299.0 L608.6,306.0 L612.0,312.5 L616.4,317.0 L621.0,320.8 L627.4,323.8 L636.0,324.8 L645.0,325.2 L680.0,325.3 L710.0,325.0 L713.0,324.3 L716.0,324.8 L719.0,324.0 L722.0,324.3 L725.0,323.2 L728.0,323.8 L731.0,322.8 L734.0,323.3 L737.0,322.5 L740.0,322.9 L742.5,322.5 L746.0,321.0 L750.0,318.8 L753.0,314.0 L756.2,308.8 L759.5,303.5 L762.5,300.0 L765.0,299.2 L767.0,299.5 L768.3,303.0 L770.0,308.8 L772.5,311.0 L775.0,312.0 L777.5,311.2 L780.0,310.0 L782.0,307.5 L783.8,305.8 L786.0,305.8 L788.0,305.0 L790.0,308.5 L792.5,312.5 L795.0,315.0 L797.5,317.0 L800.0,315.3 L802.5,314.5 L804.5,315.8 L806.2,316.2 L809.0,314.0 L811.2,312.5 L813.5,315.5 L816.2,318.0 L820.0,317.8 L825.0,318.0 L828.5,320.2 L832.5,322.5 L838.0,324.2 L845.0,325.0 L853.0,325.5 L862.4,325.5 L867.0,324.0 L872.0,322.0 L876.0,320.0 L880.0,317.2 L882.3,314.0 L884.0,310.0 L885.6,304.0 L887.2,297.2 L888.8,296.5 L890.4,297.2 L891.6,305.0 L892.8,313.2 L894.0,319.0 L895.2,322.8 L897.0,325.7 L899.2,327.6 L903.0,328.6 L907.2,329.2 L910.0,329.6 L912.8,329.2 L914.0,330.3 L915.2,332.0 L916.8,333.2 L919.0,332.0 L921.6,331.1 L925.0,331.2 L929.6,330.8 L931.0,329.6 L932.8,329.2 L935.0,330.8 L937.6,331.6 L941.0,332.8 L945.6,334.0 L948.0,332.5 L950.4,330.8 L951.5,333.0 L952.8,338.0 L954.0,334.0 L955.2,327.6 L956.8,333.0 L958.4,338.8 L960.0,335.0 L961.6,330.8 L962.4,326.0 L963.2,322.8 L964.0,328.0 L964.8,334.0 L965.6,338.0 L966.4,342.8 L967.2,336.0 L968.0,330.8 L969.5,326.0 L971.2,322.8 L972.0,325.0 L972.8,326.0 L974.0,320.0 L975.2,315.6 L976.0,321.0 L976.8,326.0"/>
</g>
<rect x="138.5" y="1.2" width="196.7" height="288" fill="#fff" stroke="#666" stroke-width="1.1"/>
<path d="M154.7,17.0 H198" stroke="#ff0000" stroke-width="3.3" stroke-dasharray="6 7.2"/>
<text x="202" y="23.3" font-size="18" fill="#111">experimental</text>
<path d="M154.7,45.5 H196.5" stroke="#000" stroke-width="3"/>
<text x="202" y="51.8" font-size="18" fill="#111">theoretical</text>
<path d="M154.7,74.1 H196.5" stroke="#ff90ff" stroke-width="1.3"/>
<text x="202" y="80.4" font-size="18" fill="#111">NH2CO2</text>
<path d="M154.7,102.7 H196.5" stroke="#ffc040" stroke-width="1.3"/>
<text x="202" y="109.0" font-size="18" fill="#111">NHCOOH</text>
<path d="M154.7,131.2 H196.5" stroke="#40f0ff" stroke-width="1.3"/>
<text x="202" y="137.5" font-size="18" fill="#111">NH3+2OH</text>
<path d="M154.7,159.8 H196.5" stroke="#b050c0" stroke-width="1.3"/>
<text x="202" y="166.1" font-size="18" fill="#111">NH3</text>
<path d="M154.7,188.3 H196.5" stroke="#b05050" stroke-width="1.3"/>
<text x="202" y="194.6" font-size="18" fill="#111">NCO+OH</text>
<path d="M154.7,216.8 H196.5" stroke="#40a0a0" stroke-width="1.3"/>
<text x="202" y="223.2" font-size="18" fill="#111">NCO</text>
<path d="M154.7,245.4 H196.5" stroke="#4848ff" stroke-width="1.3"/>
<text x="202" y="251.7" font-size="18" fill="#111">HNCO</text>
<path d="M154.7,273.9 H196.5" stroke="#40f0ff" stroke-width="1.3"/>
<text x="202" y="280.2" font-size="18" fill="#111">NH2_H2O_OH</text>
<text x="148.5" y="633" font-size="30" text-anchor="middle" fill="#111">3700</text>
<text x="266.7" y="633" font-size="30" text-anchor="middle" fill="#111">3300</text>
<text x="384.9" y="633" font-size="30" text-anchor="middle" fill="#111">2900</text>
<text x="503.1" y="633" font-size="30" text-anchor="middle" fill="#111">2500</text>
<text x="621.3" y="633" font-size="30" text-anchor="middle" fill="#111">2100</text>
<text x="739.5" y="633" font-size="30" text-anchor="middle" fill="#111">1700</text>
<text x="857.7" y="633" font-size="30" text-anchor="middle" fill="#111">1300</text>
<text x="973.0" y="633" font-size="30" text-anchor="middle" fill="#111">900</text>
<text x="406" y="670.8" font-size="27" font-weight="bold" fill="#111" textLength="274" lengthAdjust="spacingAndGlyphs">Wavenumber [cm<tspan font-size="14" dy="-12">-1</tspan><tspan dy="12">]</tspan></text>
<path d="M698.7,649 V676" stroke="#222" stroke-width="1.2"/>
<text transform="translate(22.8,413) rotate(-90)" font-size="29.5" font-weight="bold" fill="#111" textLength="267" lengthAdjust="spacingAndGlyphs">Absorbance [a.u.]</text>
<rect x="643.1" y="63.8" width="331.6" height="194.7" fill="#fff" stroke="#707070" stroke-width="1.1"/>
<g stroke="#333" stroke-width="1" fill="none">
<path d="M688.3,79.1 V217.7 H958"/>
<path d="M685.5,217.7 H688.3"/>
<path d="M685.5,197.9 H688.3"/>
<path d="M685.5,178.1 H688.3"/>
<path d="M685.5,158.3 H688.3"/>
<path d="M685.5,138.5 H688.3"/>
<path d="M685.5,118.7 H688.3"/>
<path d="M685.5,98.9 H688.3"/>
<path d="M685.5,79.1 H688.3"/>
<path d="M688.3,217.7 V220.2"/>
<path d="M742.0,217.7 V220.2"/>
<path d="M795.8,217.7 V220.2"/>
<path d="M849.5,217.7 V220.2"/>
<path d="M903.2,217.7 V220.2"/>
<path d="M956.9,217.7 V220.2"/>
<path d="M715.2,217.7 V219.7"/>
<path d="M768.9,217.7 V219.7"/>
<path d="M822.6,217.7 V219.7"/>
<path d="M876.3,217.7 V219.7"/>
<path d="M930.1,217.7 V219.7"/>
</g>
<text x="680.3" y="220.6" font-size="8.0" font-weight="bold" stroke="#111" stroke-width="0.25" text-anchor="end" fill="#111">0</text>
<text x="680.3" y="200.8" font-size="8.0" font-weight="bold" stroke="#111" stroke-width="0.25" text-anchor="end" fill="#111">0.1</text>
<text x="680.3" y="181.0" font-size="8.0" font-weight="bold" stroke="#111" stroke-width="0.25" text-anchor="end" fill="#111">0.2</text>
<text x="680.3" y="161.2" font-size="8.0" font-weight="bold" stroke="#111" stroke-width="0.25" text-anchor="end" fill="#111">0.3</text>
<text x="680.3" y="141.4" font-size="8.0" font-weight="bold" stroke="#111" stroke-width="0.25" text-anchor="end" fill="#111">0.4</text>
<text x="680.3" y="121.6" font-size="8.0" font-weight="bold" stroke="#111" stroke-width="0.25" text-anchor="end" fill="#111">0.5</text>
<text x="680.3" y="101.8" font-size="8.0" font-weight="bold" stroke="#111" stroke-width="0.25" text-anchor="end" fill="#111">0.6</text>
<text x="680.3" y="82.0" font-size="8.0" font-weight="bold" stroke="#111" stroke-width="0.25" text-anchor="end" fill="#111">0.7</text>
<text x="688.3" y="233.9" font-size="8.0" font-weight="bold" stroke="#111" stroke-width="0.25" text-anchor="middle" fill="#111">2350</text>
<text x="742.0" y="233.9" font-size="8.0" font-weight="bold" stroke="#111" stroke-width="0.25" text-anchor="middle" fill="#111">2300</text>
<text x="795.8" y="233.9" font-size="8.0" font-weight="bold" stroke="#111" stroke-width="0.25" text-anchor="middle" fill="#111">2250</text>
<text x="849.5" y="233.9" font-size="8.0" font-weight="bold" stroke="#111" stroke-width="0.25" text-anchor="middle" fill="#111">2200</text>
<text x="903.2" y="233.9" font-size="8.0" font-weight="bold" stroke="#111" stroke-width="0.25" text-anchor="middle" fill="#111">2150</text>
<text x="956.9" y="233.9" font-size="8.0" font-weight="bold" stroke="#111" stroke-width="0.25" text-anchor="middle" fill="#111">2100</text>
<text x="825.1" y="247.9" font-size="8.0" font-weight="bold" stroke="#111" stroke-width="0.2" text-anchor="middle" fill="#111" textLength="81" lengthAdjust="spacingAndGlyphs">Wavenumber [cm-1]</text>
<text transform="translate(657.6,145) rotate(-90)" font-size="8.0" font-weight="bold" stroke="#111" stroke-width="0.2" text-anchor="middle" fill="#111" textLength="73" lengthAdjust="spacingAndGlyphs">Absorbance [a.u.]</text>
<path d="M716,217.7 H933" stroke="#40f0ff" stroke-width="1.3"/>
<path d="M738.8,217.6 L739.9,217.5 L741.0,217.5 L742.0,217.5 L743.1,217.4 L744.2,217.4 L745.2,217.3 L746.3,217.2 L747.4,217.2 L748.5,217.1 L749.5,216.9 L750.6,216.8 L751.7,216.6 L752.8,216.5 L753.8,216.3 L754.9,216.0 L756.0,215.7 L757.1,215.4 L758.1,215.1 L759.2,214.7 L760.3,214.2 L761.4,213.7 L762.4,213.2 L763.5,212.5 L764.6,211.8 L765.7,211.1 L766.7,210.2 L767.8,209.3 L768.9,208.2 L770.0,207.1 L771.0,205.8 L772.1,204.5 L773.2,203.0 L774.3,201.4 L775.3,199.7 L776.4,197.9 L777.5,195.9 L778.6,193.9 L779.6,191.6 L780.7,189.3 L781.8,186.9 L782.9,184.3 L783.9,181.6 L785.0,178.8 L786.1,175.9 L787.2,172.9 L788.2,169.8 L789.3,166.6 L790.4,163.4 L791.5,160.2 L792.5,156.9 L793.6,153.6 L794.7,150.3 L795.8,147.1 L796.8,143.9 L797.9,140.8 L799.0,137.7 L800.0,134.8 L801.1,132.0 L802.2,129.3 L803.3,126.8 L804.3,124.5 L805.4,122.5 L806.5,120.6 L807.6,119.0 L808.6,117.6 L809.7,116.5 L810.8,115.6 L811.9,115.1 L812.9,114.8 L814.0,114.8 L815.1,115.1 L816.2,115.6 L817.2,116.5 L818.3,117.6 L819.4,119.0 L820.5,120.6 L821.5,122.5 L822.6,124.5 L823.7,126.8 L824.8,129.3 L825.8,132.0 L826.9,134.8 L828.0,137.7 L829.1,140.8 L830.1,143.9 L831.2,147.1 L832.3,150.3 L833.4,153.6 L834.4,156.9 L835.5,160.2 L836.6,163.4 L837.7,166.6 L838.7,169.8 L839.8,172.9 L840.9,175.9 L842.0,178.8 L843.0,181.6 L844.1,184.3 L845.2,186.9 L846.3,189.3 L847.3,191.6 L848.4,193.9 L849.5,195.9 L850.5,197.9 L851.6,199.7 L852.7,201.4 L853.8,203.0 L854.8,204.5 L855.9,205.8 L857.0,207.1 L858.1,208.2 L859.1,209.3 L860.2,210.2 L861.3,211.1 L862.4,211.8 L863.4,212.5 L864.5,213.2 L865.6,213.7 L866.7,214.2 L867.7,214.7 L868.8,215.1 L869.9,215.4 L871.0,215.7 L872.0,216.0 L873.1,216.3 L874.2,216.5 L875.3,216.6 L876.3,216.8 L877.4,216.9 L878.5,217.1 L879.6,217.2 L880.6,217.2 L881.7,217.3 L882.8,217.4 L883.9,217.4 L884.9,217.5 L886.0,217.5 L887.1,217.5 L888.2,217.6" stroke="#b84848" stroke-width="1.2" fill="none"/>
<path d="M797.9,217.6 L799.0,217.5 L800.0,217.5 L801.1,217.5 L802.2,217.4 L803.3,217.4 L804.3,217.3 L805.4,217.3 L806.5,217.2 L807.6,217.1 L808.6,217.0 L809.7,216.9 L810.8,216.8 L811.9,216.7 L812.9,216.5 L814.0,216.3 L815.1,216.1 L816.2,215.9 L817.2,215.6 L818.3,215.4 L819.4,215.0 L820.5,214.7 L821.5,214.3 L822.6,213.9 L823.7,213.4 L824.8,212.9 L825.8,212.3 L826.9,211.7 L828.0,211.1 L829.1,210.4 L830.1,209.6 L831.2,208.8 L832.3,207.9 L833.4,206.9 L834.4,205.9 L835.5,204.9 L836.6,203.7 L837.7,202.5 L838.7,201.3 L839.8,200.0 L840.9,198.7 L842.0,197.3 L843.0,195.8 L844.1,194.3 L845.2,192.8 L846.3,191.3 L847.3,189.7 L848.4,188.1 L849.5,186.6 L850.5,185.0 L851.6,183.4 L852.7,181.8 L853.8,180.3 L854.8,178.8 L855.9,177.4 L857.0,176.0 L858.1,174.6 L859.1,173.4 L860.2,172.2 L861.3,171.1 L862.4,170.2 L863.4,169.3 L864.5,168.5 L865.6,167.9 L866.7,167.4 L867.7,167.0 L868.8,166.7 L869.9,166.6 L871.0,166.6 L872.0,166.8 L873.1,167.1 L874.2,167.5 L875.3,168.0 L876.3,168.7 L877.4,169.5 L878.5,170.4 L879.6,171.4 L880.6,172.4 L881.7,173.6 L882.8,174.9 L883.9,176.2 L884.9,177.6 L886.0,179.1 L887.1,180.6 L888.2,182.1 L889.2,183.7 L890.3,185.3 L891.4,186.9 L892.5,188.5 L893.5,190.0 L894.6,191.6 L895.7,193.1 L896.8,194.6 L897.8,196.1 L898.9,197.6 L900.0,198.9 L901.1,200.3 L902.1,201.6 L903.2,202.8 L904.3,204.0 L905.3,205.1 L906.4,206.1 L907.5,207.1 L908.6,208.0 L909.6,208.9 L910.7,209.7 L911.8,210.5 L912.9,211.2 L913.9,211.9 L915.0,212.5 L916.1,213.0 L917.2,213.5 L918.2,214.0 L919.3,214.4 L920.4,214.8 L921.5,215.1 L922.5,215.4 L923.6,215.7 L924.7,215.9 L925.8,216.2 L926.8,216.4 L927.9,216.5 L929.0,216.7 L930.1,216.8 L931.1,216.9 L932.2,217.0 L933.3,217.1 L934.4,217.2 L935.4,217.3 L936.5,217.4 L937.6,217.4 L938.7,217.4 L939.7,217.5 L940.8,217.5 L941.9,217.6 L943.0,217.6" stroke="#30a0a0" stroke-width="1.2" fill="none"/>
<path d="M710.9,217.6 L711.9,217.5 L713.0,217.5 L714.1,217.5 L715.2,217.5 L716.2,217.4 L717.3,217.4 L718.4,217.3 L719.5,217.3 L720.5,217.2 L721.6,217.1 L722.7,217.0 L723.8,217.0 L724.8,216.9 L725.9,216.7 L727.0,216.6 L728.1,216.5 L729.1,216.3 L730.2,216.2 L731.3,216.0 L732.4,215.8 L733.4,215.6 L734.5,215.4 L735.6,215.1 L736.7,214.9 L737.7,214.6 L738.8,214.3 L739.9,214.0 L741.0,213.6 L742.0,213.3 L743.1,212.9 L744.2,212.5 L745.2,212.1 L746.3,211.7 L747.4,211.2 L748.5,210.8 L749.5,210.3 L750.6,209.8 L751.7,209.3 L752.8,208.8 L753.8,208.3 L754.9,207.8 L756.0,207.3 L757.1,206.7 L758.1,206.2 L759.2,205.7 L760.3,205.2 L761.4,204.7 L762.4,204.3 L763.5,203.8 L764.6,203.4 L765.7,203.0 L766.7,202.6 L767.8,202.2 L768.9,201.9 L770.0,201.6 L771.0,201.4 L772.1,201.2 L773.2,201.0 L774.3,200.9 L775.3,200.8 L776.4,200.8 L777.5,200.8 L778.6,200.8 L779.6,200.9 L780.7,201.0 L781.8,201.2 L782.9,201.4 L783.9,201.6 L785.0,201.9 L786.1,202.2 L787.2,202.6 L788.2,203.0 L789.3,203.4 L790.4,203.8 L791.5,204.3 L792.5,204.7 L793.6,205.2 L794.7,205.7 L795.8,206.2 L796.8,206.7 L797.9,207.3 L799.0,207.8 L800.0,208.3 L801.1,208.8 L802.2,209.3 L803.3,209.8 L804.3,210.3 L805.4,210.8 L806.5,211.2 L807.6,211.7 L808.6,212.1 L809.7,212.5 L810.8,212.9 L811.9,213.3 L812.9,213.6 L814.0,214.0 L815.1,214.3 L816.2,214.6 L817.2,214.9 L818.3,215.1 L819.4,215.4 L820.5,215.6 L821.5,215.8 L822.6,216.0 L823.7,216.2 L824.8,216.3 L825.8,216.5 L826.9,216.6 L828.0,216.7 L829.1,216.9 L830.1,217.0 L831.2,217.0 L832.3,217.1 L833.4,217.2 L834.4,217.3 L835.5,217.3 L836.6,217.4 L837.7,217.4 L838.7,217.5 L839.8,217.5 L840.9,217.5 L842.0,217.5 L843.0,217.6" stroke="#4040ff" stroke-width="1.2" fill="none"/>
<path d="M716.2,217.4 L717.3,217.4 L718.4,217.3 L719.5,217.3 L720.5,217.2 L721.6,217.1 L722.7,217.0 L723.8,216.9 L724.8,216.8 L725.9,216.7 L727.0,216.6 L728.1,216.5 L729.1,216.3 L730.2,216.2 L731.3,216.0 L732.4,215.8 L733.4,215.6 L734.5,215.3 L735.6,215.1 L736.7,214.8 L737.7,214.5 L738.8,214.2 L739.9,213.8 L741.0,213.5 L742.0,213.1 L743.1,212.6 L744.2,212.2 L745.2,211.7 L746.3,211.2 L747.4,210.7 L748.5,210.1 L749.5,209.5 L750.6,208.9 L751.7,208.3 L752.8,207.6 L753.8,206.9 L754.9,206.1 L756.0,205.3 L757.1,204.5 L758.1,203.6 L759.2,202.7 L760.3,201.8 L761.4,200.8 L762.4,199.7 L763.5,198.7 L764.6,197.5 L765.7,196.3 L766.7,195.1 L767.8,193.8 L768.9,192.4 L770.0,191.0 L771.0,189.5 L772.1,188.0 L773.2,186.3 L774.3,184.6 L775.3,182.8 L776.4,181.0 L777.5,179.0 L778.6,177.0 L779.6,174.8 L780.7,172.6 L781.8,170.3 L782.9,168.0 L783.9,165.5 L785.0,163.0 L786.1,160.4 L787.2,157.7 L788.2,155.0 L789.3,152.3 L790.4,149.5 L791.5,146.7 L792.5,143.9 L793.6,141.1 L794.7,138.3 L795.8,135.5 L796.8,132.8 L797.9,130.2 L799.0,127.6 L800.0,125.2 L801.1,122.9 L802.2,120.7 L803.3,118.6 L804.3,116.8 L805.4,115.1 L806.5,113.6 L807.6,112.3 L808.6,111.3 L809.7,110.5 L810.8,109.9 L811.9,109.5 L812.9,109.4 L814.0,109.5 L815.1,109.9 L816.2,110.5 L817.2,111.3 L818.3,112.3 L819.4,113.5 L820.5,114.9 L821.5,116.5 L822.6,118.2 L823.7,120.1 L824.8,122.0 L825.8,124.1 L826.9,126.2 L828.0,128.3 L829.1,130.5 L830.1,132.7 L831.2,134.8 L832.3,137.0 L833.4,139.1 L834.4,141.1 L835.5,143.0 L836.6,144.9 L837.7,146.6 L838.7,148.3 L839.8,149.8 L840.9,151.3 L842.0,152.6 L843.0,153.8 L844.1,155.0 L845.2,156.0 L846.3,156.9 L847.3,157.7 L848.4,158.4 L849.5,159.0 L850.5,159.6 L851.6,160.0 L852.7,160.4 L853.8,160.7 L854.8,161.0 L855.9,161.2 L857.0,161.4 L858.1,161.5 L859.1,161.7 L860.2,161.8 L861.3,161.9 L862.4,162.0 L863.4,162.1 L864.5,162.2 L865.6,162.4 L866.7,162.6 L867.7,162.9 L868.8,163.2 L869.9,163.6 L871.0,164.0 L872.0,164.6 L873.1,165.2 L874.2,165.9 L875.3,166.7 L876.3,167.5 L877.4,168.5 L878.5,169.6 L879.6,170.7 L880.6,171.9 L881.7,173.2 L882.8,174.5 L883.9,175.9 L884.9,177.4 L886.0,178.9 L887.1,180.4 L888.2,182.0 L889.2,183.6 L890.3,185.2 L891.4,186.8 L892.5,188.4 L893.5,190.0 L894.6,191.6 L895.7,193.1 L896.8,194.6 L897.8,196.1 L898.9,197.5 L900.0,198.9 L901.1,200.3 L902.1,201.6 L903.2,202.8 L904.3,204.0 L905.3,205.1 L906.4,206.1 L907.5,207.1 L908.6,208.0 L909.6,208.9 L910.7,209.7 L911.8,210.5 L912.9,211.2 L913.9,211.9 L915.0,212.5 L916.1,213.0 L917.2,213.5 L918.2,214.0 L919.3,214.4 L920.4,214.8 L921.5,215.1 L922.5,215.4 L923.6,215.7 L924.7,215.9 L925.8,216.2 L926.8,216.4 L927.9,216.5 L929.0,216.7 L930.1,216.8 L931.1,216.9 L932.2,217.0 L933.3,217.1 L934.4,217.2 L935.4,217.3 L936.5,217.4 L937.6,217.4" stroke="#222" stroke-width="1.2" fill="none"/>
<rect x="167.2" y="349.3" width="376.2" height="195.0" fill="#fff" stroke="#707070" stroke-width="1.1"/>
<g stroke="#333" stroke-width="1" fill="none">
<path d="M221.6,357 V513.5 H527.5"/>
<path d="M218.8,513.5 H221.6"/>
<path d="M218.8,435.2 H221.6"/>
<path d="M218.8,357.0 H221.6"/>
<path d="M221.6,513.5 V516.0"/>
<path d="M272.3,513.5 V516.0"/>
<path d="M323.1,513.5 V516.0"/>
<path d="M373.8,513.5 V516.0"/>
<path d="M424.6,513.5 V516.0"/>
<path d="M475.3,513.5 V516.0"/>
<path d="M526.1,513.5 V516.0"/>
</g>
<text x="213.6" y="516.6" font-size="8.5" font-weight="normal" text-anchor="end" fill="#111">0</text>
<text x="213.6" y="438.3" font-size="8.5" font-weight="normal" text-anchor="end" fill="#111">0.01</text>
<text x="213.6" y="360.1" font-size="8.5" font-weight="normal" text-anchor="end" fill="#111">0.02</text>
<text x="221.6" y="529.2" font-size="8.5" font-weight="normal" text-anchor="middle" fill="#111">3800</text>
<text x="272.3" y="529.2" font-size="8.5" font-weight="normal" text-anchor="middle" fill="#111">3700</text>
<text x="323.1" y="529.2" font-size="8.5" font-weight="normal" text-anchor="middle" fill="#111">3600</text>
<text x="373.8" y="529.2" font-size="8.5" font-weight="normal" text-anchor="middle" fill="#111">3500</text>
<text x="424.6" y="529.2" font-size="8.5" font-weight="normal" text-anchor="middle" fill="#111">3400</text>
<text x="475.3" y="529.2" font-size="8.5" font-weight="normal" text-anchor="middle" fill="#111">3300</text>
<text x="526.1" y="529.2" font-size="8.5" font-weight="normal" text-anchor="middle" fill="#111">3200</text>
<text x="374" y="541.3" font-size="8.5" font-weight="bold" stroke="#111" stroke-width="0.2" text-anchor="middle" fill="#111" textLength="88" lengthAdjust="spacingAndGlyphs">Wavenumber [cm-1]</text>
<text transform="translate(183,432) rotate(-90)" font-size="8.5" font-weight="bold" stroke="#111" stroke-width="0.2" text-anchor="middle" fill="#111" textLength="76" lengthAdjust="spacingAndGlyphs">Absorbance [a.u.]</text>
<path d="M259,513.5 H480" stroke="#40f0ff" stroke-width="1.3"/>
<path d="M452,513.5 H492" stroke="#3030e0" stroke-width="1.3"/>
<path d="M259.2,513.0 L259.7,512.9 L260.2,512.9 L260.7,512.8 L261.2,512.7 L261.7,512.6 L262.2,512.5 L262.7,512.4 L263.2,512.2 L263.7,512.1 L264.2,512.0 L264.7,511.8 L265.2,511.6 L265.8,511.4 L266.3,511.2 L266.8,511.0 L267.3,510.8 L267.8,510.6 L268.3,510.3 L268.8,510.1 L269.3,509.8 L269.8,509.5 L270.3,509.2 L270.8,508.9 L271.3,508.6 L271.8,508.3 L272.3,507.9 L272.9,507.6 L273.4,507.3 L273.9,506.9 L274.4,506.6 L274.9,506.2 L275.4,505.9 L275.9,505.5 L276.4,505.2 L276.9,504.9 L277.4,504.6 L277.9,504.3 L278.4,504.0 L278.9,503.7 L279.5,503.4 L280.0,503.2 L280.5,503.0 L281.0,502.8 L281.5,502.6 L282.0,502.4 L282.5,502.3 L283.0,502.2 L283.5,502.1 L284.0,502.1 L284.5,502.1 L285.0,502.1 L285.5,502.1 L286.1,502.2 L286.6,502.3 L287.1,502.4 L287.6,502.6 L288.1,502.8 L288.6,503.0 L289.1,503.2 L289.6,503.4 L290.1,503.7 L290.6,504.0 L291.1,504.3 L291.6,504.6 L292.1,504.9 L292.6,505.2 L293.2,505.5 L293.7,505.9 L294.2,506.2 L294.7,506.6 L295.2,506.9 L295.7,507.3 L296.2,507.6 L296.7,507.9 L297.2,508.3 L297.7,508.6 L298.2,508.9 L298.7,509.2 L299.2,509.5 L299.8,509.8 L300.3,510.1 L300.8,510.3 L301.3,510.6 L301.8,510.8 L302.3,511.0 L302.8,511.2 L303.3,511.4 L303.8,511.6 L304.3,511.8 L304.8,512.0 L305.3,512.1 L305.8,512.2 L306.4,512.4 L306.9,512.5 L307.4,512.6 L307.9,512.7 L308.4,512.8 L308.9,512.9 L309.4,512.9 L309.9,513.0" stroke="#b84848" stroke-width="1.0" fill="none"/>
<path d="M263.2,513.0 L263.7,512.8 L264.2,512.6 L264.7,512.4 L265.2,512.1 L265.8,511.7 L266.3,511.2 L266.8,510.6 L267.3,510.0 L267.8,509.2 L268.3,508.3 L268.8,507.3 L269.3,506.2 L269.8,505.0 L270.3,503.7 L270.8,502.3 L271.3,500.9 L271.8,499.4 L272.3,498.0 L272.9,496.6 L273.4,495.3 L273.9,494.1 L274.4,493.0 L274.9,492.1 L275.4,491.5 L275.9,491.0 L276.4,490.8 L276.9,490.9 L277.4,491.2 L277.9,491.7 L278.4,492.5 L278.9,493.4 L279.5,494.5 L280.0,495.8 L280.5,497.2 L281.0,498.6 L281.5,500.0 L282.0,501.5 L282.5,502.9 L283.0,504.2 L283.5,505.5 L284.0,506.6 L284.5,507.7 L285.0,508.7 L285.5,509.5 L286.1,510.2 L286.6,510.9 L287.1,511.4 L287.6,511.8 L288.1,512.2 L288.6,512.5 L289.1,512.7 L289.6,512.9 L290.1,513.1" stroke="#c030d0" stroke-width="1.0" fill="none"/>
<path d="M289.1,513.0 L289.6,512.9 L290.1,512.9 L290.6,512.8 L291.1,512.7 L291.6,512.6 L292.1,512.5 L292.6,512.3 L293.2,512.2 L293.7,512.0 L294.2,511.9 L294.7,511.7 L295.2,511.5 L295.7,511.3 L296.2,511.0 L296.7,510.8 L297.2,510.5 L297.7,510.2 L298.2,509.9 L298.7,509.5 L299.2,509.2 L299.8,508.8 L300.3,508.4 L300.8,507.9 L301.3,507.5 L301.8,507.0 L302.3,506.5 L302.8,506.0 L303.3,505.5 L303.8,504.9 L304.3,504.3 L304.8,503.7 L305.3,503.1 L305.8,502.5 L306.4,501.9 L306.9,501.3 L307.4,500.6 L307.9,500.0 L308.4,499.3 L308.9,498.7 L309.4,498.1 L309.9,497.4 L310.4,496.8 L310.9,496.2 L311.4,495.6 L311.9,495.1 L312.4,494.6 L312.9,494.1 L313.5,493.6 L314.0,493.2 L314.5,492.8 L315.0,492.4 L315.5,492.1 L316.0,491.8 L316.5,491.6 L317.0,491.4 L317.5,491.3 L318.0,491.2 L318.5,491.2 L319.0,491.2 L319.5,491.3 L320.1,491.4 L320.6,491.6 L321.1,491.8 L321.6,492.1 L322.1,492.4 L322.6,492.8 L323.1,493.2 L323.6,493.6 L324.1,494.1 L324.6,494.6 L325.1,495.1 L325.6,495.6 L326.1,496.2 L326.7,496.8 L327.2,497.4 L327.7,498.1 L328.2,498.7 L328.7,499.3 L329.2,500.0 L329.7,500.6 L330.2,501.3 L330.7,501.9 L331.2,502.5 L331.7,503.1 L332.2,503.7 L332.7,504.3 L333.2,504.9 L333.8,505.5 L334.3,506.0 L334.8,506.5 L335.3,507.0 L335.8,507.5 L336.3,507.9 L336.8,508.4 L337.3,508.8 L337.8,509.2 L338.3,509.5 L338.8,509.9 L339.3,510.2 L339.8,510.5 L340.4,510.8 L340.9,511.0 L341.4,511.3 L341.9,511.5 L342.4,511.7 L342.9,511.9 L343.4,512.0 L343.9,512.2 L344.4,512.3 L344.9,512.5 L345.4,512.6 L345.9,512.7 L346.4,512.8 L347.0,512.9 L347.5,512.9 L348.0,513.0" stroke="#8030a0" stroke-width="1.0" fill="none"/>
<path d="M362.7,513.1 L363.2,512.9 L363.7,512.7 L364.2,512.5 L364.7,512.2 L365.2,511.8 L365.7,511.2 L366.2,510.6 L366.7,509.9 L367.3,508.9 L367.8,507.9 L368.3,506.6 L368.8,505.1 L369.3,503.4 L369.8,501.6 L370.3,499.5 L370.8,497.2 L371.3,494.7 L371.8,492.1 L372.3,489.4 L372.8,486.6 L373.3,483.8 L373.8,481.0 L374.4,478.4 L374.9,475.9 L375.4,473.7 L375.9,471.8 L376.4,470.3 L376.9,469.1 L377.4,468.4 L377.9,468.2 L378.4,468.4 L378.9,469.1 L379.4,470.3 L379.9,471.8 L380.4,473.7 L381.0,475.9 L381.5,478.4 L382.0,481.0 L382.5,483.8 L383.0,486.6 L383.5,489.4 L384.0,492.1 L384.5,494.7 L385.0,497.2 L385.5,499.5 L386.0,501.6 L386.5,503.4 L387.0,505.1 L387.6,506.6 L388.1,507.9 L388.6,508.9 L389.1,509.9 L389.6,510.6 L390.1,511.2 L390.6,511.8 L391.1,512.2 L391.6,512.5 L392.1,512.7 L392.6,512.9 L393.1,513.1" stroke="#30f0ff" stroke-width="1.0" fill="none"/>
<path d="M367.8,513.1 L368.3,513.0 L368.8,512.8 L369.3,512.6 L369.8,512.3 L370.3,511.9 L370.8,511.4 L371.3,510.9 L371.8,510.2 L372.3,509.4 L372.8,508.4 L373.3,507.3 L373.8,506.0 L374.4,504.6 L374.9,502.9 L375.4,501.1 L375.9,499.1 L376.4,497.0 L376.9,494.8 L377.4,492.5 L377.9,490.1 L378.4,487.8 L378.9,485.5 L379.4,483.3 L379.9,481.3 L380.4,479.5 L381.0,477.9 L381.5,476.7 L382.0,475.9 L382.5,475.4 L383.0,475.3 L383.5,475.6 L384.0,476.4 L384.5,477.4 L385.0,478.8 L385.5,480.5 L386.0,482.4 L386.5,484.6 L387.0,486.8 L387.6,489.2 L388.1,491.5 L388.6,493.9 L389.1,496.1 L389.6,498.3 L390.1,500.3 L390.6,502.2 L391.1,503.9 L391.6,505.5 L392.1,506.8 L392.6,508.0 L393.1,509.0 L393.6,509.9 L394.1,510.6 L394.7,511.2 L395.2,511.7 L395.7,512.1 L396.2,512.5 L396.7,512.7 L397.2,512.9 L397.7,513.1" stroke="#30f0ff" stroke-width="1.0" fill="none"/>
<path d="M401.3,513.0 L401.8,512.8 L402.3,512.6 L402.8,512.2 L403.3,511.8 L403.8,511.2 L404.3,510.4 L404.8,509.5 L405.3,508.3 L405.8,506.9 L406.3,505.1 L406.8,502.9 L407.3,500.3 L407.9,497.2 L408.4,493.7 L408.9,489.5 L409.4,484.8 L409.9,479.6 L410.4,473.7 L410.9,467.3 L411.4,460.4 L411.9,453.1 L412.4,445.5 L412.9,437.7 L413.4,429.8 L413.9,422.0 L414.4,414.5 L415.0,407.4 L415.5,401.0 L416.0,395.3 L416.5,390.6 L417.0,387.0 L417.5,384.6 L418.0,383.4 L418.5,383.5 L419.0,384.9 L419.5,387.6 L420.0,391.5 L420.5,396.4 L421.0,402.2 L421.6,408.8 L422.1,416.0 L422.6,423.5 L423.1,431.4 L423.6,439.3 L424.1,447.1 L424.6,454.6 L425.1,461.9 L425.6,468.6 L426.1,474.9 L426.6,480.7 L427.1,485.8 L427.6,490.4 L428.2,494.4 L428.7,497.9 L429.2,500.9 L429.7,503.4 L430.2,505.5 L430.7,507.2 L431.2,508.6 L431.7,509.7 L432.2,510.6 L432.7,511.3 L433.2,511.9 L433.7,512.3 L434.2,512.6 L434.8,512.9 L435.3,513.0" stroke="#30f0ff" stroke-width="1.0" fill="none"/>
<path d="M424.1,513.1 L424.6,512.9 L425.1,512.7 L425.6,512.5 L426.1,512.1 L426.6,511.7 L427.1,511.2 L427.6,510.5 L428.2,509.7 L428.7,508.7 L429.2,507.6 L429.7,506.2 L430.2,504.6 L430.7,502.7 L431.2,500.6 L431.7,498.2 L432.2,495.6 L432.7,492.7 L433.2,489.6 L433.7,486.3 L434.2,482.9 L434.8,479.3 L435.3,475.8 L435.8,472.3 L436.3,468.9 L436.8,465.7 L437.3,462.8 L437.8,460.2 L438.3,458.1 L438.8,456.5 L439.3,455.4 L439.8,454.9 L440.3,454.9 L440.8,455.6 L441.3,456.8 L441.9,458.5 L442.4,460.7 L442.9,463.3 L443.4,466.3 L443.9,469.5 L444.4,473.0 L444.9,476.5 L445.4,480.0 L445.9,483.6 L446.4,487.0 L446.9,490.2 L447.4,493.3 L447.9,496.1 L448.5,498.7 L449.0,501.0 L449.5,503.1 L450.0,504.9 L450.5,506.5 L451.0,507.8 L451.5,508.9 L452.0,509.9 L452.5,510.7 L453.0,511.3 L453.5,511.8 L454.0,512.2 L454.5,512.5 L455.0,512.8 L455.6,513.0 L456.1,513.1" stroke="#ff20ff" stroke-width="1.0" fill="none"/>
<path d="M429.2,513.0 L429.7,512.9 L430.2,512.6 L430.7,512.4 L431.2,512.0 L431.7,511.6 L432.2,511.1 L432.7,510.4 L433.2,509.7 L433.7,508.7 L434.2,507.7 L434.8,506.4 L435.3,504.9 L435.8,503.2 L436.3,501.3 L436.8,499.2 L437.3,496.9 L437.8,494.3 L438.3,491.6 L438.8,488.8 L439.3,485.8 L439.8,482.8 L440.3,479.7 L440.8,476.8 L441.3,473.9 L441.9,471.2 L442.4,468.7 L442.9,466.6 L443.4,464.8 L443.9,463.4 L444.4,462.4 L444.9,461.9 L445.4,461.9 L445.9,462.4 L446.4,463.4 L446.9,464.8 L447.4,466.6 L447.9,468.7 L448.5,471.2 L449.0,473.9 L449.5,476.8 L450.0,479.7 L450.5,482.8 L451.0,485.8 L451.5,488.8 L452.0,491.6 L452.5,494.3 L453.0,496.9 L453.5,499.2 L454.0,501.3 L454.5,503.2 L455.0,504.9 L455.6,506.4 L456.1,507.7 L456.6,508.7 L457.1,509.7 L457.6,510.4 L458.1,511.1 L458.6,511.6 L459.1,512.0 L459.6,512.4 L460.1,512.6 L460.6,512.9 L461.1,513.0" stroke="#30f0ff" stroke-width="1.0" fill="none"/>
<path d="M444.4,513.0 L444.9,513.0 L445.4,512.9 L445.9,512.8 L446.4,512.7 L446.9,512.6 L447.4,512.5 L447.9,512.4 L448.5,512.3 L449.0,512.2 L449.5,512.1 L450.0,511.9 L450.5,511.8 L451.0,511.7 L451.5,511.5 L452.0,511.4 L452.5,511.2 L453.0,511.0 L453.5,510.9 L454.0,510.7 L454.5,510.5 L455.0,510.4 L455.6,510.2 L456.1,510.0 L456.6,509.9 L457.1,509.7 L457.6,509.6 L458.1,509.5 L458.6,509.3 L459.1,509.2 L459.6,509.1 L460.1,509.0 L460.6,509.0 L461.1,508.9 L461.6,508.8 L462.2,508.8 L462.7,508.8 L463.2,508.8 L463.7,508.8 L464.2,508.9 L464.7,508.9 L465.2,509.0 L465.7,509.1 L466.2,509.2 L466.7,509.3 L467.2,509.4 L467.7,509.5 L468.2,509.6 L468.8,509.8 L469.3,509.9 L469.8,510.1 L470.3,510.3 L470.8,510.4 L471.3,510.6 L471.8,510.8 L472.3,510.9 L472.8,511.1 L473.3,511.3 L473.8,511.4 L474.3,511.6 L474.8,511.7 L475.3,511.9 L475.9,512.0 L476.4,512.1 L476.9,512.3 L477.4,512.4 L477.9,512.5 L478.4,512.6 L478.9,512.7 L479.4,512.8 L479.9,512.8 L480.4,512.9 L480.9,513.0" stroke="#3030e0" stroke-width="1.0" fill="none"/>
<path d="M470.3,513.1 L470.8,513.0 L471.3,512.8 L471.8,512.7 L472.3,512.5 L472.8,512.2 L473.3,512.0 L473.8,511.7 L474.3,511.4 L474.8,511.1 L475.3,510.8 L475.9,510.5 L476.4,510.3 L476.9,510.0 L477.4,509.9 L477.9,509.7 L478.4,509.6 L478.9,509.6 L479.4,509.6 L479.9,509.7 L480.4,509.9 L480.9,510.0 L481.4,510.3 L481.9,510.5 L482.5,510.8 L483.0,511.1 L483.5,511.4 L484.0,511.7 L484.5,512.0 L485.0,512.2 L485.5,512.5 L486.0,512.7 L486.5,512.8 L487.0,513.0 L487.5,513.1" stroke="#ff20ff" stroke-width="1.0" fill="none"/>
<path d="M257.1,513.2 L257.6,513.1 L258.1,513.1 L258.6,513.0 L259.2,513.0 L259.7,512.9 L260.2,512.8 L260.7,512.7 L261.2,512.5 L261.7,512.4 L262.2,512.2 L262.7,512.0 L263.2,511.7 L263.7,511.4 L264.2,511.1 L264.7,510.7 L265.2,510.2 L265.8,509.6 L266.3,508.9 L266.8,508.1 L267.3,507.3 L267.8,506.2 L268.3,505.1 L268.8,503.9 L269.3,502.5 L269.8,501.0 L270.3,499.4 L270.8,497.7 L271.3,496.0 L271.8,494.2 L272.3,492.4 L272.9,490.7 L273.4,489.0 L273.9,487.5 L274.4,486.1 L274.9,484.9 L275.4,483.8 L275.9,483.1 L276.4,482.5 L276.9,482.2 L277.4,482.2 L277.9,482.4 L278.4,482.9 L278.9,483.6 L279.5,484.4 L280.0,485.4 L280.5,486.6 L281.0,487.8 L281.5,489.1 L282.0,490.3 L282.5,491.6 L283.0,492.8 L283.5,494.0 L284.0,495.1 L284.5,496.1 L285.0,497.1 L285.5,497.9 L286.1,498.7 L286.6,499.4 L287.1,500.0 L287.6,500.6 L288.1,501.1 L288.6,501.5 L289.1,501.9 L289.6,502.3 L290.1,502.6 L290.6,502.9 L291.1,503.2 L291.6,503.5 L292.1,503.7 L292.6,503.9 L293.2,504.2 L293.7,504.4 L294.2,504.6 L294.7,504.7 L295.2,504.9 L295.7,505.0 L296.2,505.1 L296.7,505.2 L297.2,505.2 L297.7,505.3 L298.2,505.3 L298.7,505.2 L299.2,505.2 L299.8,505.1 L300.3,504.9 L300.8,504.8 L301.3,504.6 L301.8,504.3 L302.3,504.0 L302.8,503.7 L303.3,503.4 L303.8,503.0 L304.3,502.6 L304.8,502.2 L305.3,501.7 L305.8,501.3 L306.4,500.8 L306.9,500.2 L307.4,499.7 L307.9,499.2 L308.4,498.6 L308.9,498.0 L309.4,497.5 L309.9,496.9 L310.4,496.4 L310.9,495.8 L311.4,495.3 L311.9,494.8 L312.4,494.3 L312.9,493.8 L313.5,493.4 L314.0,493.0 L314.5,492.6 L315.0,492.3 L315.5,492.0 L316.0,491.7 L316.5,491.5 L317.0,491.4 L317.5,491.2 L318.0,491.2 L318.5,491.2 L319.0,491.2 L319.5,491.3 L320.1,491.4 L320.6,491.6 L321.1,491.8 L321.6,492.1 L322.1,492.4 L322.6,492.7 L323.1,493.1 L323.6,493.6 L324.1,494.1 L324.6,494.6 L325.1,495.1 L325.6,495.6 L326.1,496.2 L326.7,496.8 L327.2,497.4 L327.7,498.1 L328.2,498.7 L328.7,499.3 L329.2,500.0 L329.7,500.6 L330.2,501.3 L330.7,501.9 L331.2,502.5 L331.7,503.1 L332.2,503.7 L332.7,504.3 L333.2,504.9 L333.8,505.5 L334.3,506.0 L334.8,506.5 L335.3,507.0 L335.8,507.5 L336.3,507.9 L336.8,508.4 L337.3,508.8 L337.8,509.2 L338.3,509.5 L338.8,509.9 L339.3,510.2 L339.8,510.5 L340.4,510.8 L340.9,511.0 L341.4,511.3 L341.9,511.5 L342.4,511.7 L342.9,511.9 L343.4,512.0 L343.9,512.2 L344.4,512.3 L344.9,512.5 L345.4,512.6 L345.9,512.7 L346.4,512.8 L347.0,512.9 L347.5,512.9 L348.0,513.0 L348.5,513.1 L349.0,513.1 L349.5,513.2 L350.0,513.2 L350.5,513.3 L351.0,513.3 L351.5,513.3 L352.0,513.3 L352.5,513.4 L353.0,513.4 L353.5,513.4 L354.1,513.4 L354.6,513.4 L355.1,513.4 L355.6,513.4 L356.1,513.5 L356.6,513.5 L357.1,513.5 L357.6,513.5 L358.1,513.5 L358.6,513.5 L359.1,513.4 L359.6,513.4 L360.1,513.4 L360.7,513.4 L361.2,513.3 L361.7,513.3 L362.2,513.2 L362.7,513.1 L363.2,512.9 L363.7,512.7 L364.2,512.4 L364.7,512.1 L365.2,511.7 L365.7,511.1 L366.2,510.5 L366.7,509.6 L367.3,508.7 L367.8,507.5 L368.3,506.1 L368.8,504.4 L369.3,502.5 L369.8,500.3 L370.3,497.9 L370.8,495.1 L371.3,492.1 L371.8,488.8 L372.3,485.3 L372.8,481.5 L373.3,477.6 L373.8,473.6 L374.4,469.5 L374.9,465.4 L375.4,461.3 L375.9,457.4 L376.4,453.8 L376.9,450.4 L377.4,447.4 L377.9,444.8 L378.4,442.7 L378.9,441.1 L379.4,440.0 L379.9,439.6 L380.4,439.7 L381.0,440.4 L381.5,441.6 L382.0,443.4 L382.5,445.7 L383.0,448.4 L383.5,451.5 L384.0,454.9 L384.5,458.6 L385.0,462.5 L385.5,466.5 L386.0,470.5 L386.5,474.5 L387.0,478.4 L387.6,482.2 L388.1,485.9 L388.6,489.3 L389.1,492.5 L389.6,495.4 L390.1,498.1 L390.6,500.5 L391.1,502.6 L391.6,504.4 L392.1,506.1 L392.6,507.4 L393.1,508.6 L393.6,509.6 L394.1,510.4 L394.7,511.1 L395.2,511.6 L395.7,512.1 L396.2,512.4 L396.7,512.7 L397.2,512.9 L397.7,513.0 L398.2,513.1 L398.7,513.2 L399.2,513.2 L399.7,513.2 L400.2,513.2 L400.7,513.1 L401.3,513.0 L401.8,512.8 L402.3,512.5 L402.8,512.2 L403.3,511.8 L403.8,511.2 L404.3,510.4 L404.8,509.5 L405.3,508.3 L405.8,506.9 L406.3,505.1 L406.8,502.9 L407.3,500.3 L407.9,497.2 L408.4,493.7 L408.9,489.5 L409.4,484.8 L409.9,479.6 L410.4,473.7 L410.9,467.3 L411.4,460.4 L411.9,453.1 L412.4,445.5 L412.9,437.7 L413.4,429.8 L413.9,422.0 L414.4,414.5 L415.0,407.4 L415.5,401.0 L416.0,395.3 L416.5,390.6 L417.0,387.0 L417.5,384.6 L418.0,383.4 L418.5,383.5 L419.0,384.9 L419.5,387.6 L420.0,391.4 L420.5,396.3 L421.0,402.1 L421.6,408.7 L422.1,415.8 L422.6,423.4 L423.1,431.1 L423.6,438.9 L424.1,446.6 L424.6,454.0 L425.1,461.0 L425.6,467.6 L426.1,473.5 L426.6,478.8 L427.1,483.4 L427.6,487.2 L428.2,490.4 L428.7,492.8 L429.2,494.4 L429.7,495.4 L430.2,495.7 L430.7,495.3 L431.2,494.2 L431.7,492.5 L432.2,490.3 L432.7,487.4 L433.2,484.1 L433.7,480.3 L434.2,476.1 L434.8,471.5 L435.3,466.7 L435.8,461.6 L436.3,456.4 L436.8,451.2 L437.3,446.0 L437.8,440.9 L438.3,436.1 L438.8,431.6 L439.3,427.6 L439.8,424.0 L440.3,421.0 L440.8,418.6 L441.3,416.9 L441.9,415.9 L442.4,415.6 L442.9,416.1 L443.4,417.2 L443.9,419.0 L444.4,421.4 L444.9,424.4 L445.4,427.8 L445.9,431.8 L446.4,436.0 L446.9,440.6 L447.4,445.4 L447.9,450.3 L448.5,455.2 L449.0,460.1 L449.5,464.9 L450.0,469.6 L450.5,474.1 L451.0,478.3 L451.5,482.2 L452.0,485.9 L452.5,489.2 L453.0,492.2 L453.5,494.8 L454.0,497.2 L454.5,499.3 L455.0,501.0 L455.6,502.5 L456.1,503.8 L456.6,504.8 L457.1,505.7 L457.6,506.4 L458.1,506.9 L458.6,507.4 L459.1,507.7 L459.6,508.0 L460.1,508.1 L460.6,508.3 L461.1,508.4 L461.6,508.5 L462.2,508.6 L462.7,508.6 L463.2,508.7 L463.7,508.7 L464.2,508.8 L464.7,508.9 L465.2,508.9 L465.7,509.0 L466.2,509.1 L466.7,509.2 L467.2,509.3 L467.7,509.4 L468.2,509.5 L468.8,509.6 L469.3,509.7 L469.8,509.8 L470.3,509.9 L470.8,509.9 L471.3,509.9 L471.8,509.9 L472.3,509.9 L472.8,509.8 L473.3,509.7 L473.8,509.6 L474.3,509.5 L474.8,509.4 L475.3,509.2 L475.9,509.0 L476.4,508.9 L476.9,508.8 L477.4,508.7 L477.9,508.7 L478.4,508.7 L478.9,508.8 L479.4,508.9 L479.9,509.0 L480.4,509.3 L480.9,509.5 L481.4,509.8 L481.9,510.1 L482.5,510.5 L483.0,510.8 L483.5,511.2 L484.0,511.5 L484.5,511.8 L485.0,512.1 L485.5,512.3 L486.0,512.5 L486.5,512.7 L487.0,512.9 L487.5,513.0 L488.0,513.1 L488.5,513.2" stroke="#222" stroke-width="1.0" fill="none"/>
<rect x="641.5" y="344.7" width="334.6" height="173.7" fill="#fff" stroke="#707070" stroke-width="1.1"/>
<g stroke="#333" stroke-width="1" fill="none">
<path d="M687.6,355 V487.5 H961"/>
<path d="M684.8,487.5 H687.6"/>
<path d="M684.8,457.9 H687.6"/>
<path d="M684.8,428.3 H687.6"/>
<path d="M684.8,398.7 H687.6"/>
<path d="M684.8,369.1 H687.6"/>
<path d="M687.6,487.5 V490.0"/>
<path d="M733.1,487.5 V490.0"/>
<path d="M778.7,487.5 V490.0"/>
<path d="M824.2,487.5 V490.0"/>
<path d="M869.8,487.5 V490.0"/>
<path d="M915.4,487.5 V490.0"/>
<path d="M960.9,487.5 V490.0"/>
</g>
<text x="682.3" y="490.3" font-size="7.7" font-weight="normal" text-anchor="end" fill="#111">0</text>
<text x="682.3" y="460.7" font-size="7.7" font-weight="normal" text-anchor="end" fill="#111">0.02</text>
<text x="682.3" y="431.1" font-size="7.7" font-weight="normal" text-anchor="end" fill="#111">0.04</text>
<text x="682.3" y="401.5" font-size="7.7" font-weight="normal" text-anchor="end" fill="#111">0.06</text>
<text x="682.3" y="371.9" font-size="7.7" font-weight="normal" text-anchor="end" fill="#111">0.08</text>
<text x="687.6" y="500.3" font-size="7.7" font-weight="normal" text-anchor="middle" fill="#111">1800</text>
<text x="733.1" y="500.3" font-size="7.7" font-weight="normal" text-anchor="middle" fill="#111">1700</text>
<text x="778.7" y="500.3" font-size="7.7" font-weight="normal" text-anchor="middle" fill="#111">1600</text>
<text x="824.2" y="500.3" font-size="7.7" font-weight="normal" text-anchor="middle" fill="#111">1500</text>
<text x="869.8" y="500.3" font-size="7.7" font-weight="normal" text-anchor="middle" fill="#111">1400</text>
<text x="915.4" y="500.3" font-size="7.7" font-weight="normal" text-anchor="middle" fill="#111">1300</text>
<text x="960.9" y="500.3" font-size="7.7" font-weight="normal" text-anchor="middle" fill="#111">1200</text>
<text x="825" y="509.5" font-size="7.7" font-weight="normal" text-anchor="middle" fill="#111" textLength="73" lengthAdjust="spacingAndGlyphs">Wavenumber [cm-1]</text>
<text transform="translate(654.5,418.5) rotate(-90)" font-size="7.7" font-weight="normal" text-anchor="middle" fill="#111" textLength="62" lengthAdjust="spacingAndGlyphs">Absorbance [a.u.]</text>
<path d="M710,487.5 H785" stroke="#40f0ff" stroke-width="1.3"/>
<path d="M785,487.5 H812" stroke="#7070ff" stroke-width="1.3"/>
<path d="M851,487.5 H945" stroke="#40f0ff" stroke-width="1.3"/>
<path d="M857.0,487.2 L857.5,487.1 L858.0,487.1 L858.4,487.0 L858.9,486.9 L859.3,486.8 L859.8,486.6 L860.2,486.5 L860.7,486.3 L861.1,486.1 L861.6,485.9 L862.1,485.7 L862.5,485.4 L863.0,485.1 L863.4,484.7 L863.9,484.3 L864.3,483.9 L864.8,483.4 L865.2,482.8 L865.7,482.2 L866.2,481.6 L866.6,480.9 L867.1,480.1 L867.5,479.3 L868.0,478.4 L868.4,477.4 L868.9,476.4 L869.3,475.3 L869.8,474.1 L870.3,472.9 L870.7,471.6 L871.2,470.3 L871.6,468.9 L872.1,467.5 L872.5,466.1 L873.0,464.6 L873.4,463.1 L873.9,461.5 L874.4,460.0 L874.8,458.5 L875.3,457.0 L875.7,455.5 L876.2,454.1 L876.6,452.7 L877.1,451.4 L877.5,450.1 L878.0,449.0 L878.5,447.9 L878.9,446.9 L879.4,446.1 L879.8,445.3 L880.3,444.7 L880.7,444.3 L881.2,443.9 L881.6,443.7 L882.1,443.7 L882.6,443.8 L883.0,444.0 L883.5,444.4 L883.9,444.9 L884.4,445.6 L884.8,446.4 L885.3,447.3 L885.7,448.3 L886.2,449.4 L886.7,450.6 L887.1,451.9 L887.6,453.2 L888.0,454.6 L888.5,456.1 L888.9,457.6 L889.4,459.1 L889.8,460.6 L890.3,462.1 L890.8,463.7 L891.2,465.2 L891.7,466.6 L892.1,468.1 L892.6,469.5 L893.0,470.8 L893.5,472.2 L893.9,473.4 L894.4,474.6 L894.9,475.7 L895.3,476.8 L895.8,477.8 L896.2,478.7 L896.7,479.6 L897.1,480.4 L897.6,481.2 L898.0,481.8 L898.5,482.5 L899.0,483.0 L899.4,483.6 L899.9,484.0 L900.3,484.5 L900.8,484.8 L901.2,485.2 L901.7,485.5 L902.1,485.8 L902.6,486.0 L903.1,486.2 L903.5,486.4 L904.0,486.6 L904.4,486.7 L904.9,486.8 L905.3,486.9 L905.8,487.0 L906.2,487.1 L906.7,487.2 L907.2,487.2" stroke="#b03030" stroke-width="1.0" fill="none"/>
<path d="M875.3,487.2 L875.7,487.2 L876.2,487.1 L876.6,487.1 L877.1,487.0 L877.5,486.9 L878.0,486.8 L878.5,486.7 L878.9,486.6 L879.4,486.5 L879.8,486.4 L880.3,486.2 L880.7,486.1 L881.2,485.9 L881.6,485.7 L882.1,485.5 L882.6,485.3 L883.0,485.1 L883.5,484.8 L883.9,484.6 L884.4,484.3 L884.8,484.0 L885.3,483.7 L885.7,483.4 L886.2,483.1 L886.7,482.8 L887.1,482.4 L887.6,482.1 L888.0,481.8 L888.5,481.4 L888.9,481.1 L889.4,480.8 L889.8,480.4 L890.3,480.1 L890.8,479.8 L891.2,479.5 L891.7,479.3 L892.1,479.0 L892.6,478.8 L893.0,478.6 L893.5,478.4 L893.9,478.3 L894.4,478.2 L894.9,478.1 L895.3,478.0 L895.8,478.0 L896.2,478.0 L896.7,478.1 L897.1,478.2 L897.6,478.3 L898.0,478.4 L898.5,478.6 L899.0,478.8 L899.4,479.0 L899.9,479.3 L900.3,479.5 L900.8,479.8 L901.2,480.1 L901.7,480.4 L902.1,480.8 L902.6,481.1 L903.1,481.4 L903.5,481.8 L904.0,482.1 L904.4,482.4 L904.9,482.8 L905.3,483.1 L905.8,483.4 L906.2,483.7 L906.7,484.0 L907.2,484.3 L907.6,484.6 L908.1,484.8 L908.5,485.1 L909.0,485.3 L909.4,485.5 L909.9,485.7 L910.3,485.9 L910.8,486.1 L911.3,486.2 L911.7,486.4 L912.2,486.5 L912.6,486.6 L913.1,486.7 L913.5,486.8 L914.0,486.9 L914.4,487.0 L914.9,487.1 L915.4,487.1 L915.8,487.2 L916.3,487.2" stroke="#30a0a0" stroke-width="1.0" fill="none"/>
<path d="M712.7,487.2 L713.1,487.2 L713.6,487.1 L714.0,486.9 L714.5,486.7 L714.9,486.5 L715.4,486.2 L715.8,485.9 L716.3,485.5 L716.8,485.1 L717.2,484.5 L717.7,483.8 L718.1,483.1 L718.6,482.2 L719.0,481.2 L719.5,480.1 L719.9,478.9 L720.4,477.6 L720.9,476.2 L721.3,474.7 L721.8,473.2 L722.2,471.6 L722.7,470.0 L723.1,468.3 L723.6,466.8 L724.0,465.3 L724.5,463.9 L725.0,462.6 L725.4,461.5 L725.9,460.7 L726.3,460.0 L726.8,459.6 L727.2,459.4 L727.7,459.5 L728.1,459.8 L728.6,460.4 L729.1,461.2 L729.5,462.2 L730.0,463.4 L730.4,464.7 L730.9,466.2 L731.3,467.7 L731.8,469.3 L732.2,470.9 L732.7,472.5 L733.1,474.1 L733.6,475.6 L734.1,477.1 L734.5,478.4 L735.0,479.7 L735.4,480.8 L735.9,481.8 L736.3,482.7 L736.8,483.5 L737.2,484.2 L737.7,484.8 L738.2,485.3 L738.6,485.8 L739.1,486.1 L739.5,486.4 L740.0,486.7 L740.4,486.8 L740.9,487.0 L741.3,487.1 L741.8,487.2" stroke="#30f0ff" stroke-width="1.0" fill="none"/>
<path d="M709.9,487.2 L710.4,487.1 L710.8,486.9 L711.3,486.7 L711.7,486.5 L712.2,486.3 L712.7,485.9 L713.1,485.5 L713.6,485.1 L714.0,484.5 L714.5,483.8 L714.9,483.1 L715.4,482.3 L715.8,481.3 L716.3,480.3 L716.8,479.1 L717.2,477.9 L717.7,476.6 L718.1,475.3 L718.6,473.9 L719.0,472.5 L719.5,471.2 L719.9,469.9 L720.4,468.7 L720.9,467.6 L721.3,466.7 L721.8,465.9 L722.2,465.3 L722.7,465.0 L723.1,464.9 L723.6,464.9 L724.0,465.3 L724.5,465.8 L725.0,466.5 L725.4,467.4 L725.9,468.5 L726.3,469.7 L726.8,470.9 L727.2,472.3 L727.7,473.6 L728.1,475.0 L728.6,476.3 L729.1,477.6 L729.5,478.9 L730.0,480.0 L730.4,481.1 L730.9,482.1 L731.3,482.9 L731.8,483.7 L732.2,484.4 L732.7,485.0 L733.1,485.4 L733.6,485.9 L734.1,486.2 L734.5,486.5 L735.0,486.7 L735.4,486.9 L735.9,487.0 L736.3,487.2 L736.8,487.2" stroke="#ffa020" stroke-width="1.0" fill="none"/>
<path d="M718.6,487.2 L719.0,487.2 L719.5,487.0 L719.9,486.9 L720.4,486.7 L720.9,486.4 L721.3,486.1 L721.8,485.7 L722.2,485.3 L722.7,484.8 L723.1,484.1 L723.6,483.4 L724.0,482.6 L724.5,481.8 L725.0,480.8 L725.4,479.8 L725.9,478.7 L726.3,477.6 L726.8,476.5 L727.2,475.5 L727.7,474.5 L728.1,473.5 L728.6,472.8 L729.1,472.1 L729.5,471.6 L730.0,471.3 L730.4,471.2 L730.9,471.3 L731.3,471.6 L731.8,472.1 L732.2,472.8 L732.7,473.5 L733.1,474.5 L733.6,475.5 L734.1,476.5 L734.5,477.6 L735.0,478.7 L735.4,479.8 L735.9,480.8 L736.3,481.8 L736.8,482.6 L737.2,483.4 L737.7,484.1 L738.2,484.8 L738.6,485.3 L739.1,485.7 L739.5,486.1 L740.0,486.4 L740.4,486.7 L740.9,486.9 L741.3,487.0 L741.8,487.2 L742.3,487.2" stroke="#30e030" stroke-width="1.0" fill="none"/>
<path d="M717.7,487.2 L718.1,487.2 L718.6,487.1 L719.0,486.9 L719.5,486.8 L719.9,486.6 L720.4,486.4 L720.9,486.2 L721.3,485.9 L721.8,485.6 L722.2,485.3 L722.7,484.9 L723.1,484.6 L723.6,484.2 L724.0,483.8 L724.5,483.3 L725.0,482.9 L725.4,482.5 L725.9,482.2 L726.3,481.8 L726.8,481.5 L727.2,481.3 L727.7,481.1 L728.1,481.0 L728.6,481.0 L729.1,481.0 L729.5,481.1 L730.0,481.3 L730.4,481.5 L730.9,481.8 L731.3,482.2 L731.8,482.5 L732.2,482.9 L732.7,483.3 L733.1,483.8 L733.6,484.2 L734.1,484.6 L734.5,484.9 L735.0,485.3 L735.4,485.6 L735.9,485.9 L736.3,486.2 L736.8,486.4 L737.2,486.6 L737.7,486.8 L738.2,486.9 L738.6,487.1 L739.1,487.2 L739.5,487.2" stroke="#c030d0" stroke-width="1.0" fill="none"/>
<path d="M884.8,487.2 L885.3,487.1 L885.7,486.9 L886.2,486.7 L886.7,486.4 L887.1,486.0 L887.6,485.5 L888.0,484.9 L888.5,484.0 L888.9,483.0 L889.4,481.7 L889.8,480.1 L890.3,478.2 L890.8,475.9 L891.2,473.2 L891.7,470.2 L892.1,466.6 L892.6,462.7 L893.0,458.4 L893.5,453.7 L893.9,448.8 L894.4,443.5 L894.9,438.2 L895.3,432.9 L895.8,427.6 L896.2,422.7 L896.7,418.1 L897.1,414.1 L897.6,410.7 L898.0,408.1 L898.5,406.3 L899.0,405.4 L899.4,405.5 L899.9,406.6 L900.3,408.5 L900.8,411.3 L901.2,414.8 L901.7,419.0 L902.1,423.6 L902.6,428.7 L903.1,433.9 L903.5,439.3 L904.0,444.6 L904.4,449.8 L904.9,454.7 L905.3,459.3 L905.8,463.5 L906.2,467.4 L906.7,470.8 L907.2,473.8 L907.6,476.4 L908.1,478.6 L908.5,480.4 L909.0,482.0 L909.4,483.2 L909.9,484.2 L910.3,485.0 L910.8,485.6 L911.3,486.1 L911.7,486.5 L912.2,486.8 L912.6,487.0 L913.1,487.1 L913.5,487.2" stroke="#30f030" stroke-width="1.0" fill="none"/>
<path d="M893.0,487.3 L893.5,487.1 L893.9,487.0 L894.4,486.8 L894.9,486.5 L895.3,486.1 L895.8,485.6 L896.2,485.0 L896.7,484.1 L897.1,483.1 L897.6,481.8 L898.0,480.2 L898.5,478.3 L899.0,476.0 L899.4,473.4 L899.9,470.5 L900.3,467.1 L900.8,463.5 L901.2,459.6 L901.7,455.4 L902.1,451.1 L902.6,446.8 L903.1,442.5 L903.5,438.5 L904.0,434.8 L904.4,431.6 L904.9,428.9 L905.3,427.0 L905.8,425.7 L906.2,425.3 L906.7,425.7 L907.2,427.0 L907.6,428.9 L908.1,431.6 L908.5,434.8 L909.0,438.5 L909.4,442.5 L909.9,446.8 L910.3,451.1 L910.8,455.4 L911.3,459.6 L911.7,463.5 L912.2,467.1 L912.6,470.5 L913.1,473.4 L913.5,476.0 L914.0,478.3 L914.4,480.2 L914.9,481.8 L915.4,483.1 L915.8,484.1 L916.3,485.0 L916.7,485.6 L917.2,486.1 L917.6,486.5 L918.1,486.8 L918.5,487.0 L919.0,487.1 L919.4,487.3" stroke="#b030c0" stroke-width="1.0" fill="none"/>
<path d="M891.7,487.2 L892.1,487.1 L892.6,487.0 L893.0,486.9 L893.5,486.7 L893.9,486.5 L894.4,486.3 L894.9,486.2 L895.3,486.0 L895.8,485.8 L896.2,485.6 L896.7,485.5 L897.1,485.4 L897.6,485.3 L898.0,485.3 L898.5,485.3 L899.0,485.4 L899.4,485.5 L899.9,485.6 L900.3,485.8 L900.8,486.0 L901.2,486.2 L901.7,486.3 L902.1,486.5 L902.6,486.7 L903.1,486.9 L903.5,487.0 L904.0,487.1 L904.4,487.2" stroke="#ffa020" stroke-width="1.0" fill="none"/>
<path d="M687.6,487.3 L688.1,487.3 L688.5,487.3 L689.0,487.3 L689.4,487.2 L689.9,487.2 L690.3,487.2 L690.8,487.1 L691.2,487.1 L691.7,487.1 L692.2,487.0 L692.6,487.0 L693.1,487.0 L693.5,486.9 L694.0,486.9 L694.4,486.8 L694.9,486.8 L695.3,486.7 L695.8,486.7 L696.3,486.6 L696.7,486.6 L697.2,486.5 L697.6,486.4 L698.1,486.4 L698.5,486.3 L699.0,486.3 L699.4,486.2 L699.9,486.1 L700.4,486.1 L700.8,486.0 L701.3,485.9 L701.7,485.9 L702.2,485.8 L702.6,485.7 L703.1,485.7 L703.5,485.6 L704.0,485.6 L704.5,485.5 L704.9,485.5 L705.4,485.4 L705.8,485.3 L706.3,485.3 L706.7,485.2 L707.2,485.2 L707.6,485.1 L708.1,485.1 L708.6,485.0 L709.0,485.0 L709.5,484.9 L709.9,484.8 L710.4,484.6 L710.8,484.5 L711.3,484.3 L711.7,484.0 L712.2,483.7 L712.7,483.4 L713.1,482.9 L713.6,482.3 L714.0,481.7 L714.5,480.9 L714.9,479.9 L715.4,478.8 L715.8,477.6 L716.3,476.1 L716.8,474.5 L717.2,472.7 L717.7,470.7 L718.1,468.6 L718.6,466.2 L719.0,463.7 L719.5,461.1 L719.9,458.3 L720.4,455.5 L720.9,452.6 L721.3,449.7 L721.8,446.7 L722.2,443.8 L722.7,441.0 L723.1,438.4 L723.6,435.8 L724.0,433.5 L724.5,431.4 L725.0,429.6 L725.4,428.0 L725.9,426.8 L726.3,425.9 L726.8,425.4 L727.2,425.3 L727.7,425.7 L728.1,426.4 L728.6,427.5 L729.1,429.0 L729.5,430.9 L730.0,433.2 L730.4,435.7 L730.9,438.6 L731.3,441.7 L731.8,444.9 L732.2,448.3 L732.7,451.7 L733.1,455.1 L733.6,458.5 L734.1,461.7 L734.5,464.9 L735.0,467.8 L735.4,470.5 L735.9,473.0 L736.3,475.3 L736.8,477.3 L737.2,479.0 L737.7,480.6 L738.2,481.9 L738.6,483.0 L739.1,483.9 L739.5,484.7 L740.0,485.3 L740.4,485.8 L740.9,486.2 L741.3,486.5 L741.8,486.7 L742.3,486.9 L742.7,487.0 L743.2,487.0 L743.6,487.1 L744.1,487.1 L744.5,487.0 L745.0,486.9 L745.4,486.9 L745.9,486.7 L746.4,486.6 L746.8,486.4 L747.3,486.2 L747.7,485.9 L748.2,485.6 L748.6,485.3 L749.1,484.9 L749.5,484.5 L750.0,484.1 L750.5,483.6 L750.9,483.2 L751.4,482.6 L751.8,482.1 L752.3,481.6 L752.7,481.0 L753.2,480.5 L753.6,480.0 L754.1,479.5 L754.6,479.1 L755.0,478.7 L755.5,478.4 L755.9,478.1 L756.4,477.9 L756.8,477.8 L757.3,477.7 L757.7,477.8 L758.2,477.9 L758.7,478.1 L759.1,478.4 L759.6,478.7 L760.0,479.1 L760.5,479.5 L760.9,480.0 L761.4,480.5 L761.8,481.0 L762.3,481.6 L762.8,482.1 L763.2,482.6 L763.7,483.2 L764.1,483.6 L764.6,484.1 L765.0,484.5 L765.5,484.9 L765.9,485.3 L766.4,485.6 L766.9,485.9 L767.3,486.2 L767.8,486.4 L768.2,486.6 L768.7,486.8 L769.1,486.9 L769.6,487.0 L770.0,487.1 L770.5,487.2 L771.0,487.3 L771.4,487.3 L771.9,487.4 L772.3,487.4 L772.8,487.4 L773.2,487.4 L773.7,487.5 L774.1,487.5 L774.6,487.5 L775.1,487.5 L775.5,487.5 L776.0,487.5 L776.4,487.5 L776.9,487.5 L777.3,487.5 L777.8,487.5 L778.2,487.5 L778.7,487.5 L779.2,487.5 L779.6,487.5 L780.1,487.5 L780.5,487.5 L781.0,487.5 L781.4,487.5 L781.9,487.5 L782.3,487.4 L782.8,487.4 L783.3,487.4 L783.7,487.3 L784.2,487.3 L784.6,487.2 L785.1,487.1 L785.5,487.0 L786.0,486.8 L786.4,486.6 L786.9,486.3 L787.4,486.0 L787.8,485.6 L788.3,485.1 L788.7,484.5 L789.2,483.8 L789.6,483.0 L790.1,482.0 L790.5,481.0 L791.0,479.8 L791.5,478.4 L791.9,476.9 L792.4,475.3 L792.8,473.6 L793.3,471.8 L793.7,469.9 L794.2,468.0 L794.6,466.1 L795.1,464.3 L795.6,462.5 L796.0,460.8 L796.5,459.3 L796.9,458.0 L797.4,456.9 L797.8,456.1 L798.3,455.6 L798.7,455.4 L799.2,455.5 L799.7,455.9 L800.1,456.6 L800.6,457.5 L801.0,458.8 L801.5,460.2 L801.9,461.8 L802.4,463.5 L802.8,465.4 L803.3,467.3 L803.8,469.2 L804.2,471.1 L804.7,472.9 L805.1,474.6 L805.6,476.3 L806.0,477.8 L806.5,479.2 L806.9,480.5 L807.4,481.6 L807.9,482.6 L808.3,483.5 L808.8,484.2 L809.2,484.9 L809.7,485.4 L810.1,485.8 L810.6,486.2 L811.0,486.5 L811.5,486.7 L812.0,486.9 L812.4,487.0 L812.9,487.2 L813.3,487.3 L813.8,487.3 L814.2,487.4 L814.7,487.4 L815.1,487.4 L815.6,487.5 L816.1,487.5 L816.5,487.5 L817.0,487.5 L817.4,487.5 L817.9,487.5 L818.3,487.5 L818.8,487.5 L819.2,487.5 L819.7,487.5 L820.2,487.5 L820.6,487.5 L821.1,487.5 L821.5,487.5 L822.0,487.5 L822.4,487.5 L822.9,487.5 L823.3,487.5 L823.8,487.5 L824.2,487.5 L824.7,487.5 L825.2,487.5 L825.6,487.5 L826.1,487.5 L826.5,487.5 L827.0,487.5 L827.4,487.5 L827.9,487.5 L828.3,487.5 L828.8,487.5 L829.3,487.5 L829.7,487.5 L830.2,487.5 L830.6,487.5 L831.1,487.5 L831.5,487.5 L832.0,487.5 L832.4,487.5 L832.9,487.5 L833.4,487.5 L833.8,487.5 L834.3,487.5 L834.7,487.5 L835.2,487.5 L835.6,487.5 L836.1,487.5 L836.5,487.5 L837.0,487.5 L837.5,487.5 L837.9,487.5 L838.4,487.5 L838.8,487.5 L839.3,487.5 L839.7,487.5 L840.2,487.5 L840.6,487.5 L841.1,487.5 L841.6,487.5 L842.0,487.5 L842.5,487.5 L842.9,487.5 L843.4,487.5 L843.8,487.5 L844.3,487.5 L844.7,487.5 L845.2,487.5 L845.7,487.5 L846.1,487.5 L846.6,487.5 L847.0,487.5 L847.5,487.5 L847.9,487.5 L848.4,487.5 L848.8,487.5 L849.3,487.5 L849.8,487.5 L850.2,487.5 L850.7,487.5 L851.1,487.5 L851.6,487.5 L852.0,487.5 L852.5,487.5 L852.9,487.4 L853.4,487.4 L853.9,487.4 L854.3,487.4 L854.8,487.4 L855.2,487.4 L855.7,487.3 L856.1,487.3 L856.6,487.2 L857.0,487.2 L857.5,487.1 L858.0,487.1 L858.4,487.0 L858.9,486.9 L859.3,486.8 L859.8,486.6 L860.2,486.5 L860.7,486.3 L861.1,486.1 L861.6,485.9 L862.1,485.7 L862.5,485.4 L863.0,485.1 L863.4,484.7 L863.9,484.3 L864.3,483.9 L864.8,483.4 L865.2,482.8 L865.7,482.2 L866.2,481.6 L866.6,480.9 L867.1,480.1 L867.5,479.2 L868.0,478.3 L868.4,477.4 L868.9,476.3 L869.3,475.2 L869.8,474.1 L870.3,472.9 L870.7,471.6 L871.2,470.2 L871.6,468.9 L872.1,467.4 L872.5,465.9 L873.0,464.4 L873.4,462.9 L873.9,461.3 L874.4,459.8 L874.8,458.2 L875.3,456.7 L875.7,455.1 L876.2,453.6 L876.6,452.1 L877.1,450.7 L877.5,449.4 L878.0,448.1 L878.5,446.9 L878.9,445.7 L879.4,444.7 L879.8,443.7 L880.3,442.9 L880.7,442.1 L881.2,441.5 L881.6,440.9 L882.1,440.5 L882.6,440.2 L883.0,439.9 L883.5,439.7 L883.9,439.6 L884.4,439.5 L884.8,439.5 L885.3,439.5 L885.7,439.5 L886.2,439.5 L886.7,439.4 L887.1,439.2 L887.6,438.9 L888.0,438.5 L888.5,437.9 L888.9,437.0 L889.4,435.9 L889.8,434.4 L890.3,432.6 L890.8,430.3 L891.2,427.7 L891.7,424.5 L892.1,420.9 L892.6,416.9 L893.0,412.4 L893.5,407.5 L893.9,402.3 L894.4,396.8 L894.9,391.2 L895.3,385.5 L895.8,379.9 L896.2,374.4 L896.7,369.3 L897.1,364.7 L897.6,360.6 L898.0,357.1 L898.5,354.4 L899.0,352.3 L899.4,351.0 L899.9,350.4 L900.3,350.4 L900.8,351.1 L901.2,352.3 L901.7,354.0 L902.1,356.1 L902.6,358.5 L903.1,361.3 L903.5,364.4 L904.0,367.7 L904.4,371.4 L904.9,375.3 L905.3,379.6 L905.8,384.2 L906.2,389.1 L906.7,394.3 L907.2,399.9 L907.6,405.7 L908.1,411.7 L908.5,417.9 L909.0,424.1 L909.4,430.3 L909.9,436.4 L910.3,442.3 L910.8,447.9 L911.3,453.2 L911.7,458.0 L912.2,462.4 L912.6,466.4 L913.1,469.8 L913.5,472.9 L914.0,475.4 L914.4,477.6 L914.9,479.4 L915.4,480.9 L915.8,482.0 L916.3,483.0 L916.7,483.7 L917.2,484.2 L917.6,484.6 L918.1,484.9 L918.5,485.1 L919.0,485.3 L919.4,485.4 L919.9,485.4 L920.4,485.4 L920.8,485.4 L921.3,485.4 L921.7,485.4 L922.2,485.3 L922.6,485.3 L923.1,485.3 L923.5,485.2 L924.0,485.2 L924.5,485.2 L924.9,485.2 L925.4,485.1 L925.8,485.1 L926.3,485.1 L926.7,485.1 L927.2,485.1 L927.6,485.1 L928.1,485.2 L928.6,485.2 L929.0,485.2 L929.5,485.2 L929.9,485.3 L930.4,485.3 L930.8,485.4 L931.3,485.4 L931.7,485.5 L932.2,485.5 L932.7,485.6 L933.1,485.6 L933.6,485.7 L934.0,485.8 L934.5,485.8 L934.9,485.9 L935.4,486.0 L935.8,486.1 L936.3,486.1 L936.8,486.2 L937.2,486.3 L937.7,486.3 L938.1,486.4 L938.6,486.5 L939.0,486.5 L939.5,486.6 L939.9,486.7 L940.4,486.7 L940.9,486.8 L941.3,486.8 L941.8,486.9 L942.2,486.9 L942.7,487.0 L943.1,487.0 L943.6,487.1 L944.0,487.1 L944.5,487.1 L945.0,487.2 L945.4,487.2 L945.9,487.2 L946.3,487.3 L946.8,487.3 L947.2,487.3" stroke="#222" stroke-width="1.0" fill="none"/>
</svg>
</body></html>
